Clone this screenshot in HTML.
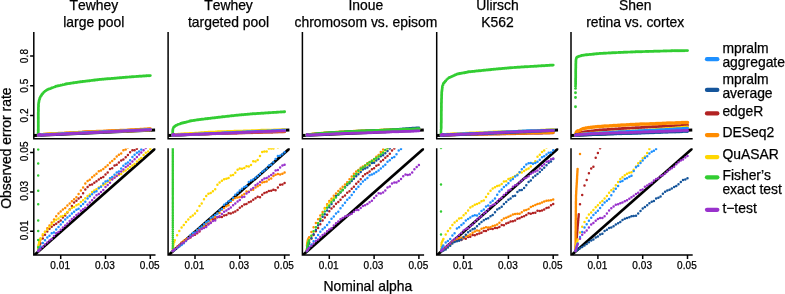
<!DOCTYPE html>
<html lang="en">
<head>
<meta charset="utf-8">
<title>Observed error rate vs nominal alpha</title>
<style>html,body{margin:0;padding:0;background:#fff}body{width:785px;height:294px;overflow:hidden}svg{display:block}</style>
</head>
<body>
<svg width="785" height="294" viewBox="0 0 785 294">
<rect width="785" height="294" fill="#fff"/>
<defs>
<clipPath id="cb0"><rect x="33.8" y="148.2" width="121.7" height="106.8"/></clipPath>
<clipPath id="ct0"><rect x="33.8" y="32" width="121.7" height="106.8"/></clipPath>
<clipPath id="cb1"><rect x="168.1" y="148.2" width="121.7" height="106.8"/></clipPath>
<clipPath id="ct1"><rect x="168.1" y="32" width="121.7" height="106.8"/></clipPath>
<clipPath id="cb2"><rect x="302.4" y="148.2" width="121.7" height="106.8"/></clipPath>
<clipPath id="ct2"><rect x="302.4" y="32" width="121.7" height="106.8"/></clipPath>
<clipPath id="cb3"><rect x="436.7" y="148.2" width="121.7" height="106.8"/></clipPath>
<clipPath id="ct3"><rect x="436.7" y="32" width="121.7" height="106.8"/></clipPath>
<clipPath id="cb4"><rect x="571" y="148.2" width="121.7" height="106.8"/></clipPath>
<clipPath id="ct4"><rect x="571" y="32" width="121.7" height="106.8"/></clipPath>
</defs>
<g clip-path="url(#ct0)">
<path d="M33.8 135.4L155.2 130" stroke="#000" stroke-width="3" fill="none"/>
<path d="M38.3 135.2h0M38.3 135.2h0M38.4 135.2h0M38.5 135.1h0M38.6 135.1h0M38.7 135.1h0M39 135h0M39.2 135h0M39.4 135h0M39.6 134.9h0M39.9 134.9h0M40.1 134.9h0M40.3 134.8h0M40.5 134.8h0M41.7 134.7h0M42.8 134.6h0M43.9 134.5h0M45 134.4h0M46.1 134.3h0M47.3 134.2h0M48.4 134.2h0M49.5 134.1h0M50.6 134h0M51.7 134h0M52.9 133.9h0M54 133.9h0M55.1 133.9h0M56.2 133.8h0M57.3 133.8h0M58.5 133.7h0M59.6 133.7h0M60.7 133.7h0M61.8 133.6h0M62.9 133.5h0M64.1 133.5h0M65.2 133.4h0M66.3 133.3h0M67.4 133.3h0M68.5 133.2h0M69.7 133.1h0M70.8 133h0M71.9 132.9h0M73 132.9h0M74.1 132.8h0M75.3 132.7h0M76.4 132.7h0M77.5 132.6h0M78.6 132.6h0M79.7 132.5h0M80.9 132.5h0M82 132.4h0M83.1 132.3h0M84.2 132.2h0M85.3 132.1h0M86.5 132h0M87.6 132h0M88.7 131.9h0M89.8 131.9h0M90.9 131.9h0M92.1 131.9h0M93.2 131.8h0M94.3 131.8h0M95.4 131.7h0M96.5 131.7h0M97.7 131.7h0M98.8 131.6h0M99.9 131.6h0M101 131.5h0M102.1 131.5h0M103.3 131.5h0M104.4 131.4h0M105.5 131.4h0M106.6 131.3h0M107.7 131.3h0M108.9 131.2h0M110 131.1h0M111.1 131.1h0M112.2 131h0M113.3 131h0M114.5 130.9h0M115.6 130.9h0M116.7 130.9h0M117.8 130.8h0M118.9 130.7h0M120.1 130.7h0M121.2 130.6h0M122.3 130.6h0M123.4 130.6h0M124.5 130.5h0M125.7 130.5h0M126.8 130.4h0M127.9 130.4h0M129 130.3h0M130.1 130.2h0M131.3 130.2h0M132.4 130.1h0M133.5 130.1h0M134.6 130.1h0M135.7 130.1h0M136.9 130.1h0M138 130h0M139.1 129.9h0M140.2 129.9h0M141.3 129.8h0M142.5 129.7h0M143.6 129.6h0M144.7 129.6h0M145.8 129.5h0M146.9 129.4h0M148.1 129.4h0M149.2 129.3h0M150.3 129.2h0" stroke="#B22222" stroke-width="2.9" stroke-linecap="round" fill="none"/>
<path d="M38.3 135.2h0M38.3 135.2h0M38.4 135.1h0M38.5 135h0M38.6 135h0M38.7 134.9h0M39 134.9h0M39.2 134.8h0M39.4 134.8h0M39.6 134.7h0M39.9 134.7h0M40.1 134.7h0M40.3 134.6h0M40.5 134.6h0M41.7 134.5h0M42.8 134.4h0M43.9 134.3h0M45 134.2h0M46.1 134.1h0M47.3 134.1h0M48.4 134h0M49.5 133.9h0M50.6 133.8h0M51.7 133.8h0M52.9 133.7h0M54 133.6h0M55.1 133.5h0M56.2 133.5h0M57.3 133.4h0M58.5 133.3h0M59.6 133.3h0M60.7 133.2h0M61.8 133.2h0M62.9 133.1h0M64.1 133.1h0M65.2 133h0M66.3 133h0M67.4 132.9h0M68.5 132.9h0M69.7 132.8h0M70.8 132.8h0M71.9 132.7h0M73 132.6h0M74.1 132.6h0M75.3 132.5h0M76.4 132.5h0M77.5 132.4h0M78.6 132.3h0M79.7 132.3h0M80.9 132.2h0M82 132.1h0M83.1 132h0M84.2 131.9h0M85.3 131.8h0M86.5 131.7h0M87.6 131.7h0M88.7 131.7h0M89.8 131.6h0M90.9 131.6h0M92.1 131.5h0M93.2 131.5h0M94.3 131.4h0M95.4 131.4h0M96.5 131.3h0M97.7 131.3h0M98.8 131.2h0M99.9 131.2h0M101 131.2h0M102.1 131.1h0M103.3 131.1h0M104.4 131h0M105.5 131h0M106.6 130.9h0M107.7 130.9h0M108.9 130.8h0M110 130.8h0M111.1 130.7h0M112.2 130.7h0M113.3 130.6h0M114.5 130.6h0M115.6 130.5h0M116.7 130.5h0M117.8 130.4h0M118.9 130.4h0M120.1 130.3h0M121.2 130.3h0M122.3 130.2h0M123.4 130.1h0M124.5 130.1h0M125.7 130.1h0M126.8 130.1h0M127.9 130h0M129 129.9h0M130.1 129.9h0M131.3 129.8h0M132.4 129.7h0M133.5 129.6h0M134.6 129.6h0M135.7 129.5h0M136.9 129.5h0M138 129.4h0M139.1 129.4h0M140.2 129.3h0M141.3 129.3h0M142.5 129.2h0M143.6 129.1h0M144.7 129h0M145.8 129h0M146.9 128.9h0M148.1 128.8h0M149.2 128.7h0M150.3 128.7h0" stroke="#FF8C00" stroke-width="2.9" stroke-linecap="round" fill="none"/>
<path d="M38.3 135.2h0M38.3 135.1h0M38.4 135.1h0M38.5 134.9h0M38.6 134.9h0M38.7 134.9h0M39 134.8h0M39.2 134.7h0M39.4 134.7h0M39.6 134.7h0M39.9 134.6h0M40.1 134.6h0M40.3 134.6h0M40.5 134.6h0M41.7 134.5h0M42.8 134.4h0M43.9 134.3h0M45 134.2h0M46.1 134.2h0M47.3 134.1h0M48.4 134.1h0M49.5 134h0M50.6 133.9h0M51.7 133.9h0M52.9 133.8h0M54 133.7h0M55.1 133.7h0M56.2 133.6h0M57.3 133.6h0M58.5 133.6h0M59.6 133.5h0M60.7 133.5h0M61.8 133.5h0M62.9 133.4h0M64.1 133.4h0M65.2 133.3h0M66.3 133.3h0M67.4 133.2h0M68.5 133.2h0M69.7 133.1h0M70.8 133.1h0M71.9 133h0M73 133h0M74.1 133h0M75.3 132.9h0M76.4 132.9h0M77.5 132.9h0M78.6 132.9h0M79.7 132.8h0M80.9 132.7h0M82 132.7h0M83.1 132.7h0M84.2 132.6h0M85.3 132.5h0M86.5 132.5h0M87.6 132.4h0M88.7 132.4h0M89.8 132.4h0M90.9 132.3h0M92.1 132.2h0M93.2 132.2h0M94.3 132.2h0M95.4 132.1h0M96.5 132.1h0M97.7 132.1h0M98.8 132h0M99.9 132h0M101 132h0M102.1 131.9h0M103.3 131.9h0M104.4 131.9h0M105.5 131.8h0M106.6 131.8h0M107.7 131.7h0M108.9 131.7h0M110 131.6h0M111.1 131.6h0M112.2 131.6h0M113.3 131.5h0M114.5 131.5h0M115.6 131.5h0M116.7 131.4h0M117.8 131.4h0M118.9 131.4h0M120.1 131.4h0M121.2 131.3h0M122.3 131.3h0M123.4 131.2h0M124.5 131.2h0M125.7 131.2h0M126.8 131.1h0M127.9 131.1h0M129 131h0M130.1 131h0M131.3 130.9h0M132.4 130.9h0M133.5 130.9h0M134.6 130.8h0M135.7 130.8h0M136.9 130.7h0M138 130.7h0M139.1 130.6h0M140.2 130.6h0M141.3 130.5h0M142.5 130.5h0M143.6 130.4h0M144.7 130.3h0M145.8 130.3h0M146.9 130.2h0M148.1 130.2h0M149.2 130.1h0M150.3 130.1h0" stroke="#FFD700" stroke-width="2.9" stroke-linecap="round" fill="none"/>
<path d="M38.3 135.2h0M38.3 135.2h0M38.4 135.2h0M38.5 135.2h0M38.6 135.2h0M38.7 135.1h0M39 135.1h0M39.2 135.1h0M39.4 135.1h0M39.6 135.1h0M39.9 135h0M40.1 135h0M40.3 135h0M40.5 135h0M41.7 134.9h0M42.8 134.8h0M43.9 134.7h0M45 134.7h0M46.1 134.6h0M47.3 134.5h0M48.4 134.5h0M49.5 134.4h0M50.6 134.4h0M51.7 134.3h0M52.9 134.3h0M54 134.3h0M55.1 134.2h0M56.2 134.1h0M57.3 134.1h0M58.5 134h0M59.6 133.9h0M60.7 133.9h0M61.8 133.8h0M62.9 133.7h0M64.1 133.7h0M65.2 133.6h0M66.3 133.6h0M67.4 133.5h0M68.5 133.5h0M69.7 133.4h0M70.8 133.4h0M71.9 133.3h0M73 133.3h0M74.1 133.2h0M75.3 133.2h0M76.4 133.1h0M77.5 133.1h0M78.6 133.1h0M79.7 133h0M80.9 132.9h0M82 132.9h0M83.1 132.8h0M84.2 132.8h0M85.3 132.7h0M86.5 132.6h0M87.6 132.6h0M88.7 132.5h0M89.8 132.5h0M90.9 132.4h0M92.1 132.3h0M93.2 132.3h0M94.3 132.2h0M95.4 132.2h0M96.5 132.2h0M97.7 132.1h0M98.8 132.1h0M99.9 132h0M101 132h0M102.1 131.9h0M103.3 131.8h0M104.4 131.8h0M105.5 131.7h0M106.6 131.7h0M107.7 131.7h0M108.9 131.6h0M110 131.6h0M111.1 131.5h0M112.2 131.5h0M113.3 131.4h0M114.5 131.4h0M115.6 131.3h0M116.7 131.3h0M117.8 131.2h0M118.9 131.2h0M120.1 131.1h0M121.2 131.1h0M122.3 131h0M123.4 130.9h0M124.5 130.9h0M125.7 130.8h0M126.8 130.8h0M127.9 130.8h0M129 130.7h0M130.1 130.6h0M131.3 130.6h0M132.4 130.5h0M133.5 130.4h0M134.6 130.4h0M135.7 130.3h0M136.9 130.3h0M138 130.2h0M139.1 130.2h0M140.2 130.2h0M141.3 130.1h0M142.5 130h0M143.6 130h0M144.7 129.9h0M145.8 129.8h0M146.9 129.8h0M148.1 129.7h0M149.2 129.7h0M150.3 129.6h0" stroke="#1E90FF" stroke-width="2.9" stroke-linecap="round" fill="none"/>
<path d="M38.2 135h0M38.2 134.6h0M38.2 134.2h0M38.2 133.7h0M38.2 132.9h0M38.2 132.2h0M38.2 131.4h0M38.2 130.8h0M38.2 130.1h0M38.3 131.6h0M38.3 130.8h0M38.3 130h0M38.3 129.2h0M38.3 128.4h0M38.3 127.6h0M38.3 126.8h0M38.3 126h0M38.3 125.2h0M38.3 124.4h0M38.3 123.6h0M38.3 122.8h0M38.3 122h0M38.3 121.2h0M38.3 120.4h0M38.3 119.6h0M38.3 118.8h0M38.3 118h0M38.3 117.2h0M38.3 116.4h0M38.3 115.6h0M38.3 114.8h0M38.3 114h0M38.3 113.2h0M38.3 112.4h0M38.4 111.6h0M38.4 110.8h0M38.4 110h0M38.4 109.2h0M38.4 108.4h0M38.4 107.6h0M38.5 106.8h0M38.5 106h0M38.5 105.2h0M38.5 104.4h0M38.6 103.6h0M38.7 102.8h0M38.9 102h0M39 101.2h0M39.1 100.5h0M39.4 99.7h0M39.6 98.9h0M39.8 98.2h0M40.2 97.4h0M40.6 96.8h0M41 96.1h0M41.4 95.4h0M41.8 94.7h0M42.3 94.1h0M42.8 93.5h0M43.9 92.2h0M45 91.3h0M46.1 90.5h0M47.3 89.8h0M48.4 89.3h0M49.5 88.9h0M50.6 88.5h0M51.7 88h0M52.9 87.6h0M54 87.1h0M55.1 86.7h0M56.2 86.3h0M57.3 86.1h0M58.5 85.8h0M59.6 85.6h0M60.7 85.3h0M61.8 85.1h0M62.9 84.8h0M64.1 84.6h0M65.2 84.3h0M66.3 84h0M67.4 83.8h0M68.5 83.6h0M69.7 83.5h0M70.8 83.3h0M71.9 83.1h0M73 83h0M74.1 82.8h0M75.3 82.6h0M76.4 82.5h0M77.5 82.3h0M78.6 82.1h0M79.7 82h0M80.9 81.8h0M82 81.7h0M83.1 81.5h0M84.2 81.4h0M85.3 81.3h0M86.5 81.1h0M87.6 81h0M88.7 80.9h0M89.8 80.7h0M90.9 80.6h0M92.1 80.4h0M93.2 80.3h0M94.3 80.2h0M95.4 80h0M96.5 79.9h0M97.7 79.8h0M98.8 79.6h0M99.9 79.5h0M101 79.4h0M102.1 79.3h0M103.3 79.2h0M104.4 79.1h0M105.5 79h0M106.6 78.9h0M107.7 78.8h0M108.9 78.8h0M110 78.7h0M111.1 78.6h0M112.2 78.5h0M113.3 78.4h0M114.5 78.3h0M115.6 78.2h0M116.7 78.1h0M117.8 78h0M118.9 77.9h0M120.1 77.8h0M121.2 77.7h0M122.3 77.6h0M123.4 77.5h0M124.5 77.4h0M125.7 77.3h0M126.8 77.2h0M127.9 77.1h0M129 77.1h0M130.1 77h0M131.3 76.9h0M132.4 76.8h0M133.5 76.7h0M134.6 76.6h0M135.7 76.6h0M136.9 76.5h0M138 76.4h0M139.1 76.3h0M140.2 76.3h0M141.3 76.2h0M142.5 76.1h0M143.6 76h0M144.7 76h0M145.8 75.9h0M146.9 75.8h0M148.1 75.7h0M149.2 75.7h0M150.3 75.6h0" stroke="#32CD32" stroke-width="2.9" stroke-linecap="round" fill="none"/>
<path d="M38.3 135.2h0M38.3 135.2h0M38.4 135.2h0M38.5 135.2h0M38.6 135.2h0M38.7 135.2h0M39 135.2h0M39.2 135.2h0M39.4 135.1h0M39.6 135.1h0M39.9 135.1h0M40.1 135.1h0M40.3 135.1h0M40.5 135.1h0M41.7 135h0M42.8 135h0M43.9 134.9h0M45 134.9h0M46.1 134.8h0M47.3 134.8h0M48.4 134.7h0M49.5 134.7h0M50.6 134.6h0M51.7 134.6h0M52.9 134.5h0M54 134.5h0M55.1 134.4h0M56.2 134.3h0M57.3 134.3h0M58.5 134.2h0M59.6 134.2h0M60.7 134.1h0M61.8 134.1h0M62.9 134h0M64.1 134h0M65.2 133.9h0M66.3 133.9h0M67.4 133.8h0M68.5 133.8h0M69.7 133.7h0M70.8 133.6h0M71.9 133.6h0M73 133.5h0M74.1 133.5h0M75.3 133.4h0M76.4 133.4h0M77.5 133.4h0M78.6 133.3h0M79.7 133.2h0M80.9 133.2h0M82 133.1h0M83.1 133.1h0M84.2 133.1h0M85.3 133h0M86.5 133h0M87.6 132.9h0M88.7 132.8h0M89.8 132.8h0M90.9 132.7h0M92.1 132.7h0M93.2 132.6h0M94.3 132.5h0M95.4 132.5h0M96.5 132.4h0M97.7 132.4h0M98.8 132.3h0M99.9 132.3h0M101 132.2h0M102.1 132.2h0M103.3 132.1h0M104.4 132.1h0M105.5 132h0M106.6 131.9h0M107.7 131.9h0M108.9 131.8h0M110 131.8h0M111.1 131.7h0M112.2 131.6h0M113.3 131.6h0M114.5 131.5h0M115.6 131.5h0M116.7 131.4h0M117.8 131.4h0M118.9 131.3h0M120.1 131.3h0M121.2 131.2h0M122.3 131.2h0M123.4 131.1h0M124.5 131h0M125.7 131h0M126.8 131h0M127.9 130.9h0M129 130.9h0M130.1 130.8h0M131.3 130.8h0M132.4 130.7h0M133.5 130.7h0M134.6 130.6h0M135.7 130.5h0M136.9 130.5h0M138 130.4h0M139.1 130.4h0M140.2 130.3h0M141.3 130.3h0M142.5 130.2h0M143.6 130.1h0M144.7 130.1h0M145.8 130h0M146.9 130h0M148.1 129.9h0M149.2 129.9h0M150.3 129.8h0" stroke="#9932CC" stroke-width="2.9" stroke-linecap="round" fill="none"/>
</g>
<g clip-path="url(#cb0)">
<path d="M32.8 256.4L155.6 148.2" stroke="#000" stroke-width="2.7" fill="none"/>
<path d="M38.3 250.9h0M38.3 250.7h0M38.4 250.3h0M38.5 249.7h0M38.6 249h0M38.7 248.3h0M39 247.5h0M39.2 246.8h0M39.4 246.1h0M39.6 245.5h0M39.9 244.8h0M40.1 244.3h0M40.3 243.8h0M40.5 243.3h0M42.8 238.6h0M45 234.7h0M47.3 231.6h0M49.5 228.8h0M51.7 226.8h0M54 225h0M56.2 223.7h0M58.5 222h0M60.7 220.6h0M62.9 217.5h0M65.2 215.5h0M67.4 212.5h0M69.7 209.5h0M71.9 206h0M74.1 202.6h0M76.4 200.7h0M78.6 198.6h0M80.9 197h0M83.1 193.2h0M85.3 189.6h0M87.6 186.9h0M89.8 184.9h0M92.1 184.5h0M94.3 182.8h0M96.5 181.2h0M98.8 179.6h0M101 178h0M103.3 176.9h0M105.5 174.6h0M107.7 172.6h0M110 169h0M112.2 168.2h0M114.5 165.6h0M116.7 164.8h0M118.9 162.4h0M121.2 160.4h0M123.4 159.4h0M125.7 157.2h0M127.9 155.1h0M130.1 152.2h0M132.4 150.3h0M134.6 150.3h0M136.9 148.8h0M139.1 145.6h0" stroke="#B22222" stroke-width="2.5" stroke-linecap="round" fill="none"/>
<path d="M38.3 250.7h0M38.3 250.4h0M38.4 249.5h0M38.5 248h0M38.6 246.8h0M38.7 246h0M39 244.5h0M39.2 243h0M39.4 242.4h0M39.6 241.8h0M39.9 241.2h0M40.1 240.6h0M40.3 239.9h0M40.5 239.3h0M42.8 235.5h0M45 231.7h0M47.3 228.2h0M49.5 225.4h0M51.7 222.4h0M54 219.4h0M56.2 216.3h0M58.5 213.4h0M60.7 211.6h0M62.9 209.5h0M65.2 208.1h0M67.4 205.4h0M69.7 203.4h0M71.9 201.2h0M74.1 199.2h0M76.4 197.2h0M78.6 194.1h0M80.9 190.6h0M83.1 187.6h0M85.3 183.5h0M87.6 181h0M89.8 179.8h0M92.1 177.3h0M94.3 175.4h0M96.5 173.8h0M98.8 171.3h0M101 170.6h0M103.3 169.1h0M105.5 167.1h0M107.7 165.2h0M110 162.8h0M112.2 160.9h0M114.5 158.9h0M116.7 156.5h0M118.9 154.8h0M121.2 153.4h0M123.4 150.3h0M125.7 149.4h0M127.9 147.4h0" stroke="#FF8C00" stroke-width="2.5" stroke-linecap="round" fill="none"/>
<path d="M38.3 250.4h0M38.3 249.9h0M38.4 248.2h0M38.5 245.9h0M38.6 245.2h0M38.7 244.5h0M39 243.1h0M39.2 241.7h0M39.4 240.7h0M39.6 240.2h0M39.9 239.7h0M40.1 239.2h0M40.3 238.7h0M40.5 238.2h0M42.8 234.2h0M45 232h0M47.3 229.7h0M49.5 227h0M51.7 224.3h0M54 221.4h0M56.2 219.8h0M58.5 218.6h0M60.7 216.6h0M62.9 215.9h0M65.2 213.9h0M67.4 211.9h0M69.7 209.9h0M71.9 208h0M74.1 207h0M76.4 205.3h0M78.6 204.2h0M80.9 202h0M83.1 200.2h0M85.3 198.2h0M87.6 196h0M89.8 194.4h0M92.1 192.1h0M94.3 190.6h0M96.5 189.2h0M98.8 187.4h0M101 186.6h0M103.3 185h0M105.5 183.7h0M107.7 181.8h0M110 180h0M112.2 178.9h0M114.5 177.6h0M116.7 175.6h0M118.9 174.9h0M121.2 174h0M123.4 171.6h0M125.7 170.6h0M127.9 168.7h0M130.1 166.9h0M132.4 165.5h0M134.6 164.1h0M136.9 161.6h0M139.1 159.4h0M141.3 158.1h0M143.6 155.1h0M145.8 152.8h0M148.1 151.6h0M150.3 149h0" stroke="#FFD700" stroke-width="2.5" stroke-linecap="round" fill="none"/>
<path d="M38.3 251h0M38.3 250.9h0M38.4 250.8h0M38.5 250.5h0M38.6 250.3h0M38.7 250h0M39 249.5h0M39.2 249h0M39.4 248.6h0M39.6 248.2h0M39.9 247.8h0M40.1 247.4h0M40.3 247h0M40.5 246.6h0M42.8 243.1h0M45 240.2h0M47.3 237.4h0M49.5 235.8h0M51.7 233.2h0M54 232.4h0M56.2 229.6h0M58.5 227h0M60.7 224.5h0M62.9 222.1h0M65.2 219.6h0M67.4 217.4h0M69.7 215.7h0M71.9 213.4h0M74.1 211.7h0M76.4 209.8h0M78.6 208.7h0M80.9 206h0M83.1 204h0M85.3 201.8h0M87.6 198.5h0M89.8 196.3h0M92.1 194.2h0M94.3 192.2h0M96.5 191.2h0M98.8 188.3h0M101 186.8h0M103.3 183.4h0M105.5 181.4h0M107.7 180.7h0M110 178.3h0M112.2 177h0M114.5 174.7h0M116.7 172.4h0M118.9 171.5h0M121.2 168.4h0M123.4 165.8h0M125.7 163.8h0M127.9 162.5h0M130.1 160.3h0M132.4 157.1h0M134.6 154.7h0M136.9 152.7h0M139.1 151.4h0M141.3 149.6h0M143.6 146.6h0" stroke="#1E90FF" stroke-width="2.5" stroke-linecap="round" fill="none"/>
<path d="M38.2 247.2h0M38.2 239.9h0M38.2 230.9h0M38.2 220.5h0M38.2 204.3h0M38.2 190.8h0M38.2 175.6h0M38.2 163.6h0M38.2 149.4h0" stroke="#32CD32" stroke-width="2.5" stroke-linecap="round" fill="none"/>
<path d="M38.3 251h0M38.3 251h0M38.4 250.9h0M38.5 250.8h0M38.6 250.7h0M38.7 250.6h0M39 250.4h0M39.2 250.2h0M39.4 250h0M39.6 249.8h0M39.9 249.6h0M40.1 249.3h0M40.3 249.1h0M40.5 248.9h0M42.8 246.8h0M45 244.6h0M47.3 242.4h0M49.5 240.5h0M51.7 238.9h0M54 236.1h0M56.2 233.3h0M58.5 231.9h0M60.7 229.8h0M62.9 227.6h0M65.2 225.6h0M67.4 223.5h0M69.7 221.1h0M71.9 218.9h0M74.1 217.2h0M76.4 215h0M78.6 213.6h0M80.9 210.8h0M83.1 209.2h0M85.3 207.8h0M87.6 204.8h0M89.8 202.6h0M92.1 200.2h0M94.3 197.7h0M96.5 195.2h0M98.8 194h0M101 192.1h0M103.3 189.9h0M105.5 187.1h0M107.7 184.9h0M110 182.7h0M112.2 179.6h0M114.5 177.8h0M116.7 176h0M118.9 173.8h0M121.2 171.6h0M123.4 169.5h0M125.7 167.1h0M127.9 165.6h0M130.1 163.7h0M132.4 161.6h0M134.6 159.2h0M136.9 157.1h0M139.1 154.5h0M141.3 152.6h0M143.6 150.2h0M145.8 148h0M148.1 146.3h0" stroke="#9932CC" stroke-width="2.5" stroke-linecap="round" fill="none"/>
</g>
<g clip-path="url(#ct1)">
<path d="M168.1 135.4L289.5 130" stroke="#000" stroke-width="3" fill="none"/>
<path d="M172.6 135.2h0M172.6 135.2h0M172.7 135.2h0M172.8 135.2h0M172.9 135.2h0M173 135.2h0M173.3 135.2h0M173.5 135.2h0M173.7 135.2h0M173.9 135.1h0M174.2 135.1h0M174.4 135.1h0M174.6 135.1h0M174.8 135.1h0M176 135.1h0M177.1 135h0M178.2 135h0M179.3 134.9h0M180.4 134.9h0M181.6 134.8h0M182.7 134.8h0M183.8 134.7h0M184.9 134.7h0M186 134.6h0M187.2 134.6h0M188.3 134.6h0M189.4 134.5h0M190.5 134.5h0M191.6 134.5h0M192.8 134.4h0M193.9 134.4h0M195 134.4h0M196.1 134.3h0M197.2 134.3h0M198.4 134.3h0M199.5 134.2h0M200.6 134.1h0M201.7 134h0M202.8 134h0M204 134h0M205.1 134h0M206.2 133.9h0M207.3 133.9h0M208.4 133.8h0M209.6 133.8h0M210.7 133.8h0M211.8 133.7h0M212.9 133.6h0M214 133.6h0M215.2 133.6h0M216.3 133.5h0M217.4 133.5h0M218.5 133.5h0M219.6 133.5h0M220.8 133.5h0M221.9 133.5h0M223 133.5h0M224.1 133.4h0M225.2 133.4h0M226.4 133.4h0M227.5 133.3h0M228.6 133.3h0M229.7 133.3h0M230.8 133.3h0M232 133.3h0M233.1 133.3h0M234.2 133.2h0M235.3 133.2h0M236.4 133.2h0M237.6 133.1h0M238.7 133.1h0M239.8 133h0M240.9 133h0M242 133h0M243.2 132.9h0M244.3 132.9h0M245.4 132.8h0M246.5 132.8h0M247.6 132.8h0M248.8 132.8h0M249.9 132.7h0M251 132.7h0M252.1 132.7h0M253.2 132.6h0M254.4 132.6h0M255.5 132.5h0M256.6 132.5h0M257.7 132.5h0M258.8 132.5h0M260 132.5h0M261.1 132.4h0M262.2 132.4h0M263.3 132.3h0M264.4 132.3h0M265.6 132.3h0M266.7 132.3h0M267.8 132.2h0M268.9 132.2h0M270 132.2h0M271.2 132.2h0M272.3 132.2h0M273.4 132.1h0M274.5 132.1h0M275.6 132.1h0M276.8 132.1h0M277.9 132h0M279 131.9h0M280.1 131.9h0M281.2 131.9h0M282.4 131.9h0M283.5 131.8h0M284.6 131.8h0" stroke="#B22222" stroke-width="2.9" stroke-linecap="round" fill="none"/>
<path d="M172.6 135.2h0M172.6 135.2h0M172.7 135.2h0M172.8 135.2h0M172.9 135.2h0M173 135.2h0M173.3 135.2h0M173.5 135.2h0M173.7 135.1h0M173.9 135.1h0M174.2 135.1h0M174.4 135.1h0M174.6 135.1h0M174.8 135.1h0M176 135h0M177.1 135h0M178.2 134.9h0M179.3 134.9h0M180.4 134.8h0M181.6 134.8h0M182.7 134.7h0M183.8 134.7h0M184.9 134.6h0M186 134.6h0M187.2 134.6h0M188.3 134.6h0M189.4 134.5h0M190.5 134.4h0M191.6 134.4h0M192.8 134.4h0M193.9 134.3h0M195 134.3h0M196.1 134.2h0M197.2 134.2h0M198.4 134.1h0M199.5 134.1h0M200.6 134.1h0M201.7 134.1h0M202.8 134h0M204 134h0M205.1 133.9h0M206.2 133.8h0M207.3 133.8h0M208.4 133.7h0M209.6 133.7h0M210.7 133.6h0M211.8 133.5h0M212.9 133.5h0M214 133.5h0M215.2 133.5h0M216.3 133.4h0M217.4 133.3h0M218.5 133.3h0M219.6 133.3h0M220.8 133.2h0M221.9 133.1h0M223 133.1h0M224.1 133h0M225.2 133h0M226.4 133h0M227.5 132.9h0M228.6 132.9h0M229.7 132.8h0M230.8 132.7h0M232 132.7h0M233.1 132.6h0M234.2 132.6h0M235.3 132.5h0M236.4 132.5h0M237.6 132.5h0M238.7 132.5h0M239.8 132.5h0M240.9 132.5h0M242 132.4h0M243.2 132.4h0M244.3 132.3h0M245.4 132.3h0M246.5 132.2h0M247.6 132.2h0M248.8 132.2h0M249.9 132.2h0M251 132.1h0M252.1 132.1h0M253.2 132.1h0M254.4 132.1h0M255.5 132h0M256.6 132h0M257.7 131.9h0M258.8 131.9h0M260 131.9h0M261.1 131.8h0M262.2 131.8h0M263.3 131.8h0M264.4 131.7h0M265.6 131.7h0M266.7 131.7h0M267.8 131.7h0M268.9 131.6h0M270 131.6h0M271.2 131.6h0M272.3 131.5h0M273.4 131.4h0M274.5 131.4h0M275.6 131.4h0M276.8 131.4h0M277.9 131.3h0M279 131.4h0M280.1 131.4h0M281.2 131.3h0M282.4 131.3h0M283.5 131.3h0M284.6 131.3h0" stroke="#FF8C00" stroke-width="2.9" stroke-linecap="round" fill="none"/>
<path d="M172.6 135.2h0M172.6 135.2h0M172.7 135.2h0M172.8 135.1h0M172.9 135.1h0M173 135h0M173.3 134.9h0M173.5 134.8h0M173.7 134.8h0M173.9 134.8h0M174.2 134.7h0M174.4 134.7h0M174.6 134.7h0M174.8 134.7h0M176 134.5h0M177.1 134.4h0M178.2 134.3h0M179.3 134.2h0M180.4 134.1h0M181.6 134h0M182.7 134h0M183.8 133.9h0M184.9 133.8h0M186 133.7h0M187.2 133.7h0M188.3 133.6h0M189.4 133.6h0M190.5 133.5h0M191.6 133.5h0M192.8 133.4h0M193.9 133.4h0M195 133.3h0M196.1 133.2h0M197.2 133.2h0M198.4 133.1h0M199.5 132.9h0M200.6 132.9h0M201.7 132.8h0M202.8 132.7h0M204 132.6h0M205.1 132.5h0M206.2 132.4h0M207.3 132.4h0M208.4 132.3h0M209.6 132.3h0M210.7 132.3h0M211.8 132.2h0M212.9 132.2h0M214 132.2h0M215.2 132.1h0M216.3 132h0M217.4 131.9h0M218.5 131.8h0M219.6 131.8h0M220.8 131.7h0M221.9 131.7h0M223 131.6h0M224.1 131.6h0M225.2 131.6h0M226.4 131.6h0M227.5 131.5h0M228.6 131.5h0M229.7 131.5h0M230.8 131.4h0M232 131.4h0M233.1 131.4h0M234.2 131.3h0M235.3 131.3h0M236.4 131.2h0M237.6 131.1h0M238.7 131.1h0M239.8 131.1h0M240.9 131.1h0M242 131.1h0M243.2 131.1h0M244.3 131h0M245.4 131h0M246.5 130.9h0M247.6 130.9h0M248.8 131h0M249.9 130.9h0M251 130.9h0M252.1 130.8h0M253.2 130.7h0M254.4 130.7h0M255.5 130.7h0M256.6 130.7h0M257.7 130.6h0M258.8 130.5h0M260 130.4h0M261.1 130.3h0M262.2 130.2h0M263.3 130.2h0M264.4 130.2h0M265.6 130.2h0M266.7 130.2h0M267.8 130.1h0M268.9 130.1h0M270 130.1h0M271.2 130.1h0M272.3 130.1h0M273.4 130.1h0M274.5 130h0M275.6 130h0M276.8 130h0M277.9 130h0M279 130h0M280.1 129.9h0M281.2 129.9h0M282.4 129.8h0M283.5 129.8h0M284.6 129.7h0" stroke="#FFD700" stroke-width="2.9" stroke-linecap="round" fill="none"/>
<path d="M172.6 135.2h0M172.6 135.2h0M172.7 135.2h0M172.8 135.2h0M172.9 135.2h0M173 135.2h0M173.3 135.2h0M173.5 135.2h0M173.7 135.2h0M173.9 135.2h0M174.2 135.1h0M174.4 135.1h0M174.6 135.1h0M174.8 135.1h0M176 135.1h0M177.1 135.1h0M178.2 135h0M179.3 135h0M180.4 134.9h0M181.6 134.9h0M182.7 134.9h0M183.8 134.8h0M184.9 134.8h0M186 134.7h0M187.2 134.6h0M188.3 134.6h0M189.4 134.5h0M190.5 134.4h0M191.6 134.4h0M192.8 134.3h0M193.9 134.3h0M195 134.3h0M196.1 134.2h0M197.2 134.2h0M198.4 134.1h0M199.5 134h0M200.6 134h0M201.7 134h0M202.8 133.9h0M204 133.9h0M205.1 133.8h0M206.2 133.8h0M207.3 133.7h0M208.4 133.7h0M209.6 133.6h0M210.7 133.5h0M211.8 133.5h0M212.9 133.5h0M214 133.4h0M215.2 133.4h0M216.3 133.4h0M217.4 133.3h0M218.5 133.2h0M219.6 133.2h0M220.8 133.1h0M221.9 133.1h0M223 133h0M224.1 132.9h0M225.2 132.8h0M226.4 132.8h0M227.5 132.7h0M228.6 132.7h0M229.7 132.7h0M230.8 132.7h0M232 132.6h0M233.1 132.5h0M234.2 132.5h0M235.3 132.4h0M236.4 132.3h0M237.6 132.3h0M238.7 132.2h0M239.8 132.2h0M240.9 132.1h0M242 132.1h0M243.2 132h0M244.3 132h0M245.4 132h0M246.5 131.9h0M247.6 131.8h0M248.8 131.7h0M249.9 131.7h0M251 131.7h0M252.1 131.6h0M253.2 131.6h0M254.4 131.6h0M255.5 131.5h0M256.6 131.5h0M257.7 131.4h0M258.8 131.4h0M260 131.3h0M261.1 131.3h0M262.2 131.2h0M263.3 131.2h0M264.4 131.2h0M265.6 131.1h0M266.7 131.1h0M267.8 131h0M268.9 130.9h0M270 130.9h0M271.2 130.9h0M272.3 130.8h0M273.4 130.7h0M274.5 130.7h0M275.6 130.6h0M276.8 130.5h0M277.9 130.4h0M279 130.4h0M280.1 130.4h0M281.2 130.4h0M282.4 130.3h0M283.5 130.3h0M284.6 130.2h0" stroke="#1E90FF" stroke-width="2.9" stroke-linecap="round" fill="none"/>
<path d="M172.6 135h0M172.6 134.2h0M172.6 133.4h0M172.7 132.6h0M172.7 131.8h0M172.7 131h0M172.8 130.2h0M172.9 129.4h0M173.1 128.7h0M173.5 127.9h0M173.8 127.2h0M174.4 126.7h0M175 126.2h0M175.7 125.7h0M176.4 125.3h0M177.1 125h0M178.2 124.4h0M179.3 124.1h0M180.4 123.7h0M181.6 123.3h0M182.7 123h0M183.8 122.8h0M184.9 122.5h0M186 122.2h0M187.2 121.9h0M188.3 121.6h0M189.4 121.3h0M190.5 121h0M191.6 120.8h0M192.8 120.6h0M193.9 120.5h0M195 120.3h0M196.1 120.1h0M197.2 119.9h0M198.4 119.8h0M199.5 119.6h0M200.6 119.5h0M201.7 119.3h0M202.8 119.2h0M204 119.1h0M205.1 118.9h0M206.2 118.8h0M207.3 118.7h0M208.4 118.5h0M209.6 118.4h0M210.7 118.3h0M211.8 118.1h0M212.9 118h0M214 117.9h0M215.2 117.7h0M216.3 117.6h0M217.4 117.5h0M218.5 117.3h0M219.6 117.2h0M220.8 117.1h0M221.9 117h0M223 116.8h0M224.1 116.7h0M225.2 116.6h0M226.4 116.4h0M227.5 116.3h0M228.6 116.2h0M229.7 116.1h0M230.8 115.9h0M232 115.8h0M233.1 115.7h0M234.2 115.6h0M235.3 115.4h0M236.4 115.3h0M237.6 115.2h0M238.7 115.1h0M239.8 115h0M240.9 114.9h0M242 114.8h0M243.2 114.7h0M244.3 114.6h0M245.4 114.5h0M246.5 114.4h0M247.6 114.3h0M248.8 114.2h0M249.9 114.1h0M251 114h0M252.1 113.9h0M253.2 113.8h0M254.4 113.8h0M255.5 113.7h0M256.6 113.6h0M257.7 113.5h0M258.8 113.5h0M260 113.4h0M261.1 113.3h0M262.2 113.2h0M263.3 113.2h0M264.4 113.1h0M265.6 113h0M266.7 112.9h0M267.8 112.9h0M268.9 112.8h0M270 112.7h0M271.2 112.6h0M272.3 112.6h0M273.4 112.5h0M274.5 112.4h0M275.6 112.4h0M276.8 112.3h0M277.9 112.2h0M279 112.1h0M280.1 112.1h0M281.2 112h0M282.4 111.9h0M283.5 111.9h0M284.6 111.8h0" stroke="#32CD32" stroke-width="2.9" stroke-linecap="round" fill="none"/>
<path d="M172.6 135.2h0M172.6 135.2h0M172.7 135.2h0M172.8 135.2h0M172.9 135.2h0M173 135.2h0M173.3 135.2h0M173.5 135.2h0M173.7 135.2h0M173.9 135.1h0M174.2 135.1h0M174.4 135.1h0M174.6 135.1h0M174.8 135.1h0M176 135.1h0M177.1 135h0M178.2 135h0M179.3 134.9h0M180.4 134.9h0M181.6 134.8h0M182.7 134.8h0M183.8 134.8h0M184.9 134.7h0M186 134.7h0M187.2 134.6h0M188.3 134.6h0M189.4 134.5h0M190.5 134.5h0M191.6 134.5h0M192.8 134.4h0M193.9 134.4h0M195 134.3h0M196.1 134.3h0M197.2 134.3h0M198.4 134.2h0M199.5 134.2h0M200.6 134.1h0M201.7 134.1h0M202.8 134.1h0M204 134h0M205.1 134h0M206.2 134h0M207.3 133.9h0M208.4 133.9h0M209.6 133.8h0M210.7 133.8h0M211.8 133.7h0M212.9 133.7h0M214 133.7h0M215.2 133.7h0M216.3 133.6h0M217.4 133.5h0M218.5 133.5h0M219.6 133.5h0M220.8 133.4h0M221.9 133.3h0M223 133.3h0M224.1 133.2h0M225.2 133.2h0M226.4 133.2h0M227.5 133.1h0M228.6 133.1h0M229.7 133.1h0M230.8 133h0M232 133h0M233.1 132.9h0M234.2 132.9h0M235.3 132.8h0M236.4 132.8h0M237.6 132.7h0M238.7 132.7h0M239.8 132.6h0M240.9 132.6h0M242 132.5h0M243.2 132.5h0M244.3 132.5h0M245.4 132.4h0M246.5 132.3h0M247.6 132.3h0M248.8 132.2h0M249.9 132.2h0M251 132.1h0M252.1 132.1h0M253.2 132h0M254.4 132h0M255.5 131.9h0M256.6 131.9h0M257.7 131.8h0M258.8 131.8h0M260 131.7h0M261.1 131.7h0M262.2 131.6h0M263.3 131.6h0M264.4 131.6h0M265.6 131.5h0M266.7 131.5h0M267.8 131.5h0M268.9 131.5h0M270 131.4h0M271.2 131.4h0M272.3 131.3h0M273.4 131.3h0M274.5 131.2h0M275.6 131.2h0M276.8 131.1h0M277.9 131.1h0M279 131.1h0M280.1 131h0M281.2 131h0M282.4 130.9h0M283.5 130.9h0M284.6 130.9h0" stroke="#9932CC" stroke-width="2.9" stroke-linecap="round" fill="none"/>
</g>
<g clip-path="url(#cb1)">
<path d="M167.1 256.4L289.9 148.2" stroke="#000" stroke-width="2.7" fill="none"/>
<path d="M172.6 251h0M172.6 251h0M172.7 251h0M172.8 250.9h0M172.9 250.8h0M173 250.7h0M173.3 250.5h0M173.5 250.3h0M173.7 250.1h0M173.9 249.9h0M174.2 249.7h0M174.4 249.5h0M174.6 249.3h0M174.8 249.1h0M177.1 247.1h0M179.3 245.2h0M181.6 243.1h0M183.8 241.6h0M186 239.4h0M188.3 238.3h0M190.5 237.4h0M192.8 235.3h0M195 234.7h0M197.2 233.3h0M199.5 231.4h0M201.7 228.1h0M204 227.2h0M206.2 225.7h0M208.4 223.9h0M210.7 222.6h0M212.9 219.3h0M215.2 218.9h0M217.4 217.2h0M219.6 217.1h0M221.9 216.9h0M224.1 215.6h0M226.4 215h0M228.6 213.3h0M230.8 213.6h0M233.1 212.5h0M235.3 211.5h0M237.6 209.9h0M239.8 207.7h0M242 206.2h0M244.3 204.4h0M246.5 203.9h0M248.8 202.3h0M251 201.5h0M253.2 199.8h0M255.5 198.2h0M257.7 196.7h0M260 197.3h0M262.2 194.7h0M264.4 193.1h0M266.7 192.3h0M268.9 191h0M271.2 190.7h0M273.4 189.8h0M275.6 190.2h0M277.9 187.5h0M280.1 184.8h0M282.4 184.4h0M284.6 183h0" stroke="#B22222" stroke-width="2.5" stroke-linecap="round" fill="none"/>
<path d="M172.6 251h0M172.6 251h0M172.7 250.9h0M172.8 250.8h0M172.9 250.7h0M173 250.6h0M173.3 250.4h0M173.5 250.2h0M173.7 250h0M173.9 249.8h0M174.2 249.6h0M174.4 249.4h0M174.6 249.1h0M174.8 248.9h0M177.1 246.8h0M179.3 244.9h0M181.6 242.5h0M183.8 240.7h0M186 239.3h0M188.3 238.3h0M190.5 235.9h0M192.8 234.3h0M195 232.9h0M197.2 230.4h0M199.5 229.4h0M201.7 228.2h0M204 226.3h0M206.2 223.2h0M208.4 221.5h0M210.7 219.4h0M212.9 216.9h0M215.2 216.9h0M217.4 213.4h0M219.6 213.1h0M221.9 209.8h0M224.1 208.1h0M226.4 206.3h0M228.6 205.2h0M230.8 201.8h0M233.1 199.8h0M235.3 197.9h0M237.6 197.5h0M239.8 197h0M242 195.6h0M244.3 194h0M246.5 191.4h0M248.8 191.8h0M251 189.9h0M253.2 189.7h0M255.5 187.4h0M257.7 186.2h0M260 184.9h0M262.2 182.6h0M264.4 182.1h0M266.7 181.5h0M268.9 179.4h0M271.2 178.4h0M273.4 175.9h0M275.6 174.8h0M277.9 174.1h0M280.1 174.6h0M282.4 173.8h0M284.6 172.6h0" stroke="#FF8C00" stroke-width="2.5" stroke-linecap="round" fill="none"/>
<path d="M172.6 250.8h0M172.6 250.7h0M172.7 250.1h0M172.8 249.3h0M172.9 248.4h0M173 247.5h0M173.3 245.8h0M173.5 244h0M173.7 242.9h0M173.9 242.4h0M174.2 241.9h0M174.4 241.3h0M174.6 240.8h0M174.8 240.3h0M177.1 235.2h0M179.3 230.9h0M181.6 227.5h0M183.8 225h0M186 222h0M188.3 219.6h0M190.5 217.1h0M192.8 215.5h0M195 213.4h0M197.2 210.8h0M199.5 206.1h0M201.7 203.4h0M204 199.2h0M206.2 196h0M208.4 193.7h0M210.7 193h0M212.9 191.3h0M215.2 189.3h0M217.4 184.8h0M219.6 182.6h0M221.9 180.7h0M224.1 179.3h0M226.4 178.7h0M228.6 177.9h0M230.8 175.6h0M233.1 175h0M235.3 172.8h0M237.6 169.8h0M239.8 168.6h0M242 168.7h0M244.3 168.1h0M246.5 166.2h0M248.8 166.5h0M251 165h0M253.2 161.3h0M255.5 161.5h0M257.7 160.1h0M260 156h0M262.2 151.9h0M264.4 151.5h0M266.7 151.4h0M268.9 148.6h0M271.2 148.5h0M273.4 148.5h0M275.6 146.6h0M277.9 147.5h0M280.1 145.8h0" stroke="#FFD700" stroke-width="2.5" stroke-linecap="round" fill="none"/>
<path d="M172.6 251h0M172.6 251h0M172.7 251h0M172.8 250.9h0M172.9 250.8h0M173 250.8h0M173.3 250.6h0M173.5 250.5h0M173.7 250.3h0M173.9 250.2h0M174.2 250h0M174.4 249.9h0M174.6 249.7h0M174.8 249.6h0M177.1 248.1h0M179.3 246.6h0M181.6 244.9h0M183.8 243.3h0M186 241h0M188.3 238.2h0M190.5 235.3h0M192.8 233.1h0M195 232.5h0M197.2 230.2h0M199.5 228.1h0M201.7 226.4h0M204 224.3h0M206.2 222.3h0M208.4 221.1h0M210.7 218.1h0M212.9 216.8h0M215.2 215.1h0M217.4 213.4h0M219.6 210.6h0M221.9 208.9h0M224.1 204.8h0M226.4 203.2h0M228.6 201.2h0M230.8 200.7h0M233.1 197.8h0M235.3 194.8h0M237.6 192.8h0M239.8 190.4h0M242 188.8h0M244.3 187h0M246.5 185.9h0M248.8 182h0M251 180.4h0M253.2 179.5h0M255.5 177.8h0M257.7 175.9h0M260 173.9h0M262.2 171.7h0M264.4 170.4h0M266.7 168.4h0M268.9 165.6h0M271.2 164.7h0M273.4 162.3h0M275.6 159.1h0M277.9 155.9h0M280.1 155.8h0M282.4 154.2h0M284.6 152.3h0" stroke="#1E90FF" stroke-width="2.5" stroke-linecap="round" fill="none"/>
<path d="M172.8 248.1h0M172.8 245.9h0M172.8 243.7h0M172.8 241.6h0M172.8 239.5h0M172.8 237.4h0M172.8 235.4h0M172.8 233.4h0M172.8 231.4h0M172.8 229.5h0M172.8 227.6h0M172.8 225.8h0M172.8 224h0M172.8 222.2h0M172.8 220.4h0M172.8 218.7h0M172.8 217.1h0M172.8 215.4h0M172.8 213.8h0M172.8 212.2h0M172.8 210.7h0M172.8 209.2h0M172.8 207.7h0M172.8 206.3h0M172.8 204.9h0M172.8 203.6h0M172.8 202.2h0M172.8 200.9h0M172.8 199.7h0M172.8 198.5h0M172.8 197.3h0M172.8 196.1h0M172.8 195h0M172.8 193.9h0M172.8 192.9h0M172.8 191.9h0M172.8 190.9h0M172.8 190h0M172.8 189.1h0M172.8 188.2h0M172.8 187.3h0M172.8 186.4h0M172.8 185.5h0M172.8 184.6h0M172.8 183.7h0M172.8 182.8h0M172.8 181.9h0M172.8 181h0M172.8 180.1h0M172.8 179.2h0M172.8 178.3h0M172.8 177.4h0M172.8 176.5h0M172.8 175.6h0M172.8 174.7h0M172.8 173.8h0M172.8 172.9h0M172.8 172h0M172.8 171.1h0M172.8 170.2h0M172.8 169.3h0M172.8 168.4h0M172.8 167.5h0M172.8 166.6h0M172.8 165.7h0M172.8 164.8h0M172.8 163.9h0M172.8 163h0M172.8 162.1h0M172.8 161.2h0M172.8 160.3h0M172.8 159.4h0M172.8 158.5h0M172.8 157.6h0M172.8 156.7h0M172.8 155.8h0M172.8 154.9h0M172.8 154h0M172.8 153.1h0M172.8 152.2h0M172.8 151.3h0M172.8 150.4h0M172.8 149.5h0M172.8 148.6h0M172.8 147.7h0M172.8 146.8h0" stroke="#32CD32" stroke-width="2.5" stroke-linecap="round" fill="none"/>
<path d="M172.6 251h0M172.6 251h0M172.7 251h0M172.8 250.9h0M172.9 250.8h0M173 250.7h0M173.3 250.5h0M173.5 250.3h0M173.7 250.1h0M173.9 250h0M174.2 249.8h0M174.4 249.6h0M174.6 249.4h0M174.8 249.2h0M177.1 247.4h0M179.3 245.5h0M181.6 243.6h0M183.8 242.4h0M186 240.5h0M188.3 238.4h0M190.5 236.9h0M192.8 235.5h0M195 233.8h0M197.2 232.3h0M199.5 230.5h0M201.7 229.1h0M204 227.9h0M206.2 226.9h0M208.4 224.4h0M210.7 222.9h0M212.9 220.9h0M215.2 220.5h0M217.4 217.1h0M219.6 216.2h0M221.9 213.9h0M224.1 211.7h0M226.4 210.4h0M228.6 208.9h0M230.8 207.6h0M233.1 205.2h0M235.3 203.5h0M237.6 201.5h0M239.8 200h0M242 197.2h0M244.3 196.8h0M246.5 193.5h0M248.8 191.9h0M251 189.6h0M253.2 188.1h0M255.5 185.3h0M257.7 183.8h0M260 182.1h0M262.2 180h0M264.4 178.6h0M266.7 178h0M268.9 176.4h0M271.2 175h0M273.4 173.2h0M275.6 170.5h0M277.9 169.9h0M280.1 167.5h0M282.4 165.5h0M284.6 164.8h0" stroke="#9932CC" stroke-width="2.5" stroke-linecap="round" fill="none"/>
</g>
<g clip-path="url(#ct2)">
<path d="M302.4 135.4L423.8 130" stroke="#000" stroke-width="3" fill="none"/>
<path d="M306.9 135.2h0M306.9 135.2h0M307 135.2h0M307.1 135.1h0M307.2 135.1h0M307.3 135.1h0M307.6 135h0M307.8 134.9h0M308 134.9h0M308.2 134.9h0M308.5 134.9h0M308.7 134.8h0M308.9 134.8h0M309.1 134.8h0M310.3 134.7h0M311.4 134.6h0M312.5 134.5h0M313.6 134.4h0M314.7 134.3h0M315.9 134.2h0M317 134.1h0M318.1 134h0M319.2 133.9h0M320.3 133.9h0M321.5 133.8h0M322.6 133.7h0M323.7 133.6h0M324.8 133.5h0M325.9 133.4h0M327.1 133.4h0M328.2 133.3h0M329.3 133.2h0M330.4 133.1h0M331.5 133.1h0M332.7 133h0M333.8 133h0M334.9 132.9h0M336 132.8h0M337.1 132.8h0M338.3 132.7h0M339.4 132.7h0M340.5 132.6h0M341.6 132.6h0M342.7 132.5h0M343.9 132.5h0M345 132.4h0M346.1 132.3h0M347.2 132.3h0M348.3 132.2h0M349.5 132.2h0M350.6 132.1h0M351.7 132.1h0M352.8 132h0M353.9 132h0M355.1 131.9h0M356.2 131.8h0M357.3 131.8h0M358.4 131.7h0M359.5 131.7h0M360.7 131.6h0M361.8 131.5h0M362.9 131.4h0M364 131.4h0M365.1 131.3h0M366.3 131.3h0M367.4 131.3h0M368.5 131.2h0M369.6 131.2h0M370.7 131.2h0M371.9 131.1h0M373 131.1h0M374.1 131h0M375.2 131h0M376.3 130.9h0M377.5 130.9h0M378.6 130.9h0M379.7 130.8h0M380.8 130.7h0M381.9 130.7h0M383.1 130.6h0M384.2 130.6h0M385.3 130.5h0M386.4 130.5h0M387.5 130.4h0M388.7 130.4h0M389.8 130.3h0M390.9 130.2h0M392 130.2h0M393.1 130.1h0M394.3 130h0M395.4 130h0M396.5 129.9h0M397.6 129.9h0M398.7 129.9h0M399.9 129.8h0M401 129.8h0M402.1 129.7h0M403.2 129.7h0M404.3 129.7h0M405.5 129.6h0M406.6 129.6h0M407.7 129.6h0M408.8 129.5h0M409.9 129.5h0M411.1 129.5h0M412.2 129.4h0M413.3 129.4h0M414.4 129.3h0M415.5 129.3h0M416.7 129.2h0M417.8 129.2h0M418.9 129.1h0" stroke="#B22222" stroke-width="2.9" stroke-linecap="round" fill="none"/>
<path d="M306.9 135.1h0M306.9 135.1h0M307 134.9h0M307.1 134.9h0M307.2 134.8h0M307.3 134.8h0M307.6 134.7h0M307.8 134.7h0M308 134.6h0M308.2 134.6h0M308.5 134.6h0M308.7 134.6h0M308.9 134.5h0M309.1 134.5h0M310.3 134.4h0M311.4 134.2h0M312.5 134.1h0M313.6 134h0M314.7 133.9h0M315.9 133.8h0M317 133.7h0M318.1 133.6h0M319.2 133.5h0M320.3 133.4h0M321.5 133.3h0M322.6 133.2h0M323.7 133.1h0M324.8 133h0M325.9 132.9h0M327.1 132.8h0M328.2 132.8h0M329.3 132.7h0M330.4 132.6h0M331.5 132.6h0M332.7 132.5h0M333.8 132.4h0M334.9 132.4h0M336 132.3h0M337.1 132.3h0M338.3 132.2h0M339.4 132.1h0M340.5 132.1h0M341.6 132h0M342.7 132h0M343.9 131.9h0M345 131.9h0M346.1 131.8h0M347.2 131.7h0M348.3 131.7h0M349.5 131.6h0M350.6 131.5h0M351.7 131.5h0M352.8 131.4h0M353.9 131.3h0M355.1 131.3h0M356.2 131.2h0M357.3 131.2h0M358.4 131.1h0M359.5 131.1h0M360.7 131h0M361.8 131h0M362.9 131h0M364 130.9h0M365.1 130.9h0M366.3 130.8h0M367.4 130.8h0M368.5 130.8h0M369.6 130.7h0M370.7 130.7h0M371.9 130.7h0M373 130.6h0M374.1 130.6h0M375.2 130.5h0M376.3 130.5h0M377.5 130.4h0M378.6 130.4h0M379.7 130.3h0M380.8 130.2h0M381.9 130.2h0M383.1 130.1h0M384.2 130h0M385.3 130h0M386.4 129.9h0M387.5 129.9h0M388.7 129.9h0M389.8 129.8h0M390.9 129.8h0M392 129.8h0M393.1 129.7h0M394.3 129.7h0M395.4 129.7h0M396.5 129.6h0M397.6 129.6h0M398.7 129.5h0M399.9 129.5h0M401 129.5h0M402.1 129.5h0M403.2 129.4h0M404.3 129.4h0M405.5 129.3h0M406.6 129.3h0M407.7 129.2h0M408.8 129.2h0M409.9 129.2h0M411.1 129.1h0M412.2 129.1h0M413.3 129.1h0M414.4 129h0M415.5 129h0M416.7 129h0M417.8 128.9h0M418.9 128.9h0" stroke="#FF8C00" stroke-width="2.9" stroke-linecap="round" fill="none"/>
<path d="M306.9 135.2h0M306.9 135.2h0M307 135.1h0M307.1 135.1h0M307.2 135h0M307.3 134.9h0M307.6 134.9h0M307.8 134.8h0M308 134.8h0M308.2 134.7h0M308.5 134.7h0M308.7 134.7h0M308.9 134.6h0M309.1 134.6h0M310.3 134.5h0M311.4 134.4h0M312.5 134.3h0M313.6 134.2h0M314.7 134.1h0M315.9 134h0M317 133.9h0M318.1 133.8h0M319.2 133.7h0M320.3 133.6h0M321.5 133.5h0M322.6 133.4h0M323.7 133.2h0M324.8 133.1h0M325.9 133h0M327.1 132.9h0M328.2 132.8h0M329.3 132.8h0M330.4 132.7h0M331.5 132.7h0M332.7 132.6h0M333.8 132.5h0M334.9 132.5h0M336 132.4h0M337.1 132.4h0M338.3 132.3h0M339.4 132.3h0M340.5 132.3h0M341.6 132.2h0M342.7 132.1h0M343.9 132h0M345 132h0M346.1 131.9h0M347.2 131.8h0M348.3 131.8h0M349.5 131.7h0M350.6 131.7h0M351.7 131.6h0M352.8 131.6h0M353.9 131.5h0M355.1 131.4h0M356.2 131.4h0M357.3 131.3h0M358.4 131.3h0M359.5 131.2h0M360.7 131.1h0M361.8 131.1h0M362.9 131h0M364 131h0M365.1 131h0M366.3 130.9h0M367.4 130.9h0M368.5 130.9h0M369.6 130.9h0M370.7 130.8h0M371.9 130.8h0M373 130.7h0M374.1 130.7h0M375.2 130.6h0M376.3 130.6h0M377.5 130.5h0M378.6 130.4h0M379.7 130.4h0M380.8 130.3h0M381.9 130.3h0M383.1 130.2h0M384.2 130.2h0M385.3 130.1h0M386.4 130.1h0M387.5 130.1h0M388.7 130h0M389.8 129.9h0M390.9 129.9h0M392 129.9h0M393.1 129.8h0M394.3 129.8h0M395.4 129.8h0M396.5 129.7h0M397.6 129.7h0M398.7 129.7h0M399.9 129.6h0M401 129.6h0M402.1 129.5h0M403.2 129.5h0M404.3 129.5h0M405.5 129.4h0M406.6 129.4h0M407.7 129.4h0M408.8 129.3h0M409.9 129.3h0M411.1 129.2h0M412.2 129.2h0M413.3 129.2h0M414.4 129.1h0M415.5 129.1h0M416.7 129h0M417.8 129h0M418.9 129h0" stroke="#FFD700" stroke-width="2.9" stroke-linecap="round" fill="none"/>
<path d="M306.9 135.2h0M306.9 135.2h0M307 135.2h0M307.1 135.2h0M307.2 135.2h0M307.3 135.2h0M307.6 135.1h0M307.8 135.1h0M308 135.1h0M308.2 135.1h0M308.5 135h0M308.7 135h0M308.9 135h0M309.1 135h0M310.3 134.9h0M311.4 134.9h0M312.5 134.8h0M313.6 134.7h0M314.7 134.6h0M315.9 134.5h0M317 134.5h0M318.1 134.4h0M319.2 134.3h0M320.3 134.2h0M321.5 134.2h0M322.6 134.1h0M323.7 134.1h0M324.8 134h0M325.9 134h0M327.1 133.9h0M328.2 133.8h0M329.3 133.8h0M330.4 133.7h0M331.5 133.6h0M332.7 133.5h0M333.8 133.5h0M334.9 133.4h0M336 133.3h0M337.1 133.3h0M338.3 133.2h0M339.4 133.1h0M340.5 133.1h0M341.6 133h0M342.7 132.9h0M343.9 132.8h0M345 132.8h0M346.1 132.7h0M347.2 132.6h0M348.3 132.6h0M349.5 132.5h0M350.6 132.5h0M351.7 132.4h0M352.8 132.3h0M353.9 132.2h0M355.1 132.2h0M356.2 132.1h0M357.3 132h0M358.4 132h0M359.5 131.9h0M360.7 131.8h0M361.8 131.8h0M362.9 131.7h0M364 131.7h0M365.1 131.6h0M366.3 131.6h0M367.4 131.5h0M368.5 131.5h0M369.6 131.4h0M370.7 131.4h0M371.9 131.4h0M373 131.3h0M374.1 131.3h0M375.2 131.3h0M376.3 131.2h0M377.5 131.2h0M378.6 131.2h0M379.7 131.1h0M380.8 131.1h0M381.9 131h0M383.1 131h0M384.2 130.9h0M385.3 130.9h0M386.4 130.8h0M387.5 130.7h0M388.7 130.7h0M389.8 130.6h0M390.9 130.6h0M392 130.5h0M393.1 130.5h0M394.3 130.5h0M395.4 130.4h0M396.5 130.3h0M397.6 130.2h0M398.7 130.2h0M399.9 130.1h0M401 130.1h0M402.1 130h0M403.2 130h0M404.3 129.9h0M405.5 129.8h0M406.6 129.8h0M407.7 129.8h0M408.8 129.7h0M409.9 129.6h0M411.1 129.6h0M412.2 129.5h0M413.3 129.5h0M414.4 129.4h0M415.5 129.4h0M416.7 129.3h0M417.8 129.3h0M418.9 129.2h0" stroke="#1E90FF" stroke-width="2.9" stroke-linecap="round" fill="none"/>
<path d="M306.9 135.2h0M306.9 135.2h0M307 135.2h0M307.1 135.1h0M307.2 135.1h0M307.3 135.1h0M307.6 135h0M307.8 135h0M308 134.9h0M308.2 134.9h0M308.5 134.9h0M308.7 134.8h0M308.9 134.8h0M309.1 134.8h0M310.3 134.7h0M311.4 134.6h0M312.5 134.5h0M313.6 134.4h0M314.7 134.2h0M315.9 134.1h0M317 134h0M318.1 133.9h0M319.2 133.8h0M320.3 133.7h0M321.5 133.6h0M322.6 133.5h0M323.7 133.4h0M324.8 133.3h0M325.9 133.3h0M327.1 133.2h0M328.2 133.1h0M329.3 133h0M330.4 132.9h0M331.5 132.8h0M332.7 132.8h0M333.8 132.7h0M334.9 132.6h0M336 132.4h0M337.1 132.4h0M338.3 132.4h0M339.4 132.3h0M340.5 132.3h0M341.6 132.2h0M342.7 132.1h0M343.9 132.1h0M345 132h0M346.1 131.9h0M347.2 131.9h0M348.3 131.8h0M349.5 131.8h0M350.6 131.7h0M351.7 131.7h0M352.8 131.6h0M353.9 131.6h0M355.1 131.5h0M356.2 131.5h0M357.3 131.4h0M358.4 131.3h0M359.5 131.3h0M360.7 131.2h0M361.8 131.2h0M362.9 131.1h0M364 131.1h0M365.1 131.1h0M366.3 131h0M367.4 131h0M368.5 131h0M369.6 130.9h0M370.7 130.8h0M371.9 130.8h0M373 130.8h0M374.1 130.8h0M375.2 130.7h0M376.3 130.7h0M377.5 130.6h0M378.6 130.6h0M379.7 130.5h0M380.8 130.4h0M381.9 130.4h0M383.1 130.4h0M384.2 130.3h0M385.3 130.3h0M386.4 130.2h0M387.5 130.2h0M388.7 130.1h0M389.8 130.1h0M390.9 130h0M392 129.9h0M393.1 129.8h0M394.3 129.7h0M395.4 129.6h0M396.5 129.6h0M397.6 129.5h0M398.7 129.4h0M399.9 129.3h0M401 129.2h0M402.1 129.1h0M403.2 129h0M404.3 128.9h0M405.5 128.9h0M406.6 128.8h0M407.7 128.7h0M408.8 128.6h0M409.9 128.5h0M411.1 128.4h0M412.2 128.3h0M413.3 128.3h0M414.4 128.2h0M415.5 128.1h0M416.7 128h0M417.8 127.9h0M418.9 127.9h0" stroke="#15559B" stroke-width="2.9" stroke-linecap="round" fill="none"/>
<path d="M306.9 135.2h0M306.9 135.2h0M307 135.2h0M307.1 135.1h0M307.2 135.1h0M307.3 135h0M307.6 134.9h0M307.8 134.9h0M308 134.8h0M308.2 134.8h0M308.5 134.8h0M308.7 134.7h0M308.9 134.7h0M309.1 134.7h0M310.3 134.5h0M311.4 134.4h0M312.5 134.3h0M313.6 134.2h0M314.7 134.1h0M315.9 134h0M317 133.9h0M318.1 133.8h0M319.2 133.7h0M320.3 133.6h0M321.5 133.5h0M322.6 133.4h0M323.7 133.3h0M324.8 133.2h0M325.9 133.1h0M327.1 133h0M328.2 133h0M329.3 132.9h0M330.4 132.8h0M331.5 132.7h0M332.7 132.7h0M333.8 132.6h0M334.9 132.6h0M336 132.5h0M337.1 132.4h0M338.3 132.4h0M339.4 132.3h0M340.5 132.2h0M341.6 132.2h0M342.7 132.1h0M343.9 132.1h0M345 132h0M346.1 131.9h0M347.2 131.8h0M348.3 131.8h0M349.5 131.7h0M350.6 131.7h0M351.7 131.6h0M352.8 131.5h0M353.9 131.4h0M355.1 131.4h0M356.2 131.3h0M357.3 131.2h0M358.4 131.2h0M359.5 131.1h0M360.7 131.1h0M361.8 131h0M362.9 131h0M364 131h0M365.1 130.9h0M366.3 130.9h0M367.4 130.8h0M368.5 130.8h0M369.6 130.7h0M370.7 130.7h0M371.9 130.7h0M373 130.6h0M374.1 130.6h0M375.2 130.6h0M376.3 130.5h0M377.5 130.5h0M378.6 130.5h0M379.7 130.4h0M380.8 130.4h0M381.9 130.3h0M383.1 130.3h0M384.2 130.2h0M385.3 130.1h0M386.4 130.1h0M387.5 130h0M388.7 130h0M389.8 129.9h0M390.9 129.9h0M392 129.9h0M393.1 129.8h0M394.3 129.8h0M395.4 129.7h0M396.5 129.7h0M397.6 129.6h0M398.7 129.6h0M399.9 129.5h0M401 129.4h0M402.1 129.4h0M403.2 129.3h0M404.3 129.3h0M405.5 129.2h0M406.6 129.2h0M407.7 129.2h0M408.8 129.2h0M409.9 129.2h0M411.1 129.1h0M412.2 129.1h0M413.3 129h0M414.4 129h0M415.5 128.9h0M416.7 128.9h0M417.8 128.8h0M418.9 128.8h0" stroke="#32CD32" stroke-width="2.9" stroke-linecap="round" fill="none"/>
<path d="M306.9 135.2h0M306.9 135.2h0M307 135.2h0M307.1 135.2h0M307.2 135.2h0M307.3 135.2h0M307.6 135.2h0M307.8 135.1h0M308 135.1h0M308.2 135.1h0M308.5 135.1h0M308.7 135.1h0M308.9 135.1h0M309.1 135h0M310.3 135h0M311.4 134.9h0M312.5 134.9h0M313.6 134.8h0M314.7 134.8h0M315.9 134.7h0M317 134.7h0M318.1 134.6h0M319.2 134.6h0M320.3 134.5h0M321.5 134.4h0M322.6 134.4h0M323.7 134.4h0M324.8 134.3h0M325.9 134.3h0M327.1 134.2h0M328.2 134.2h0M329.3 134.1h0M330.4 134.1h0M331.5 134.1h0M332.7 134h0M333.8 133.9h0M334.9 133.9h0M336 133.8h0M337.1 133.8h0M338.3 133.7h0M339.4 133.7h0M340.5 133.6h0M341.6 133.6h0M342.7 133.5h0M343.9 133.5h0M345 133.5h0M346.1 133.4h0M347.2 133.4h0M348.3 133.4h0M349.5 133.4h0M350.6 133.4h0M351.7 133.3h0M352.8 133.3h0M353.9 133.2h0M355.1 133.2h0M356.2 133.1h0M357.3 133.1h0M358.4 133.1h0M359.5 133.1h0M360.7 133h0M361.8 133h0M362.9 132.9h0M364 132.9h0M365.1 132.9h0M366.3 132.9h0M367.4 132.8h0M368.5 132.8h0M369.6 132.7h0M370.7 132.7h0M371.9 132.7h0M373 132.6h0M374.1 132.5h0M375.2 132.5h0M376.3 132.4h0M377.5 132.4h0M378.6 132.3h0M379.7 132.3h0M380.8 132.3h0M381.9 132.3h0M383.1 132.3h0M384.2 132.2h0M385.3 132.2h0M386.4 132.1h0M387.5 132h0M388.7 132h0M389.8 132h0M390.9 131.9h0M392 131.8h0M393.1 131.8h0M394.3 131.8h0M395.4 131.8h0M396.5 131.8h0M397.6 131.7h0M398.7 131.7h0M399.9 131.6h0M401 131.6h0M402.1 131.5h0M403.2 131.4h0M404.3 131.4h0M405.5 131.4h0M406.6 131.4h0M407.7 131.4h0M408.8 131.4h0M409.9 131.4h0M411.1 131.3h0M412.2 131.3h0M413.3 131.2h0M414.4 131.1h0M415.5 131h0M416.7 131h0M417.8 130.9h0M418.9 130.9h0" stroke="#9932CC" stroke-width="2.9" stroke-linecap="round" fill="none"/>
</g>
<g clip-path="url(#cb2)">
<path d="M301.4 256.4L424.2 148.2" stroke="#000" stroke-width="2.7" fill="none"/>
<path d="M306.9 250.9h0M306.9 250.8h0M307 250.4h0M307.1 249.8h0M307.2 249.1h0M307.3 248.5h0M307.6 247.3h0M307.8 246h0M308 245.4h0M308.2 244.8h0M308.5 244.2h0M308.7 243.6h0M308.9 243h0M309.1 242.5h0M311.4 238.4h0M313.6 235h0M315.9 231.3h0M318.1 227.9h0M320.3 224.3h0M322.6 220.5h0M324.8 217.4h0M327.1 214.8h0M329.3 211.2h0M331.5 208.6h0M333.8 206.5h0M336 203.8h0M338.3 201.9h0M340.5 199.7h0M342.7 197.1h0M345 195.4h0M347.2 192.7h0M349.5 191.3h0M351.7 188.8h0M353.9 186.8h0M356.2 183.7h0M358.4 181.7h0M360.7 179.2h0M362.9 176.3h0M365.1 174.2h0M367.4 172.9h0M369.6 171.6h0M371.9 169.2h0M374.1 168.2h0M376.3 165.7h0M378.6 164.7h0M380.8 161.5h0M383.1 160.1h0M385.3 157.8h0M387.5 156.1h0M389.8 153.8h0M392 150.6h0M394.3 148.4h0M396.5 146.4h0" stroke="#B22222" stroke-width="2.5" stroke-linecap="round" fill="none"/>
<path d="M306.9 250h0M306.9 248.9h0M307 245.8h0M307.1 244.2h0M307.2 243.5h0M307.3 242.7h0M307.6 241.2h0M307.8 240.3h0M308 239.8h0M308.2 239.3h0M308.5 238.8h0M308.7 238.2h0M308.9 237.7h0M309.1 237.2h0M311.4 232h0M313.6 227.3h0M315.9 223.1h0M318.1 219.3h0M320.3 215.5h0M322.6 211.9h0M324.8 208.1h0M327.1 204.2h0M329.3 200.9h0M331.5 198.8h0M333.8 195.7h0M336 193.6h0M338.3 191h0M340.5 188.8h0M342.7 186.8h0M345 184.4h0M347.2 182.3h0M349.5 179.3h0M351.7 176.5h0M353.9 173.8h0M356.2 171.5h0M358.4 169.9h0M360.7 167.8h0M362.9 166.4h0M365.1 165.3h0M367.4 163.2h0M369.6 162.1h0M371.9 160.5h0M374.1 158.9h0M376.3 156.8h0M378.6 154.9h0M380.8 152.1h0M383.1 149.5h0M385.3 146.9h0M387.5 145.4h0" stroke="#FF8C00" stroke-width="2.5" stroke-linecap="round" fill="none"/>
<path d="M306.9 250.7h0M306.9 250.5h0M307 249.7h0M307.1 248.3h0M307.2 247h0M307.3 245.6h0M307.6 244.3h0M307.8 243.4h0M308 242.5h0M308.2 241.6h0M308.5 240.9h0M308.7 240.5h0M308.9 240.1h0M309.1 239.7h0M311.4 235.7h0M313.6 231.6h0M315.9 227.2h0M318.1 223h0M320.3 218.6h0M322.6 214.2h0M324.8 208.8h0M327.1 205.6h0M329.3 202.4h0M331.5 200.5h0M333.8 198h0M336 196h0M338.3 193.7h0M340.5 192.3h0M342.7 189.6h0M345 186.7h0M347.2 183.8h0M349.5 182.2h0M351.7 179.6h0M353.9 177.6h0M356.2 175h0M358.4 172.8h0M360.7 170.3h0M362.9 168.3h0M365.1 167.6h0M367.4 165.1h0M369.6 164.5h0M371.9 162.6h0M374.1 161h0M376.3 158.7h0M378.6 156.4h0M380.8 154.2h0M383.1 152.1h0M385.3 150.3h0M387.5 148.5h0M389.8 146.1h0" stroke="#FFD700" stroke-width="2.5" stroke-linecap="round" fill="none"/>
<path d="M306.9 251h0M306.9 250.9h0M307 250.8h0M307.1 250.6h0M307.2 250.4h0M307.3 250.2h0M307.6 249.7h0M307.8 249.3h0M308 248.9h0M308.2 248.5h0M308.5 248.1h0M308.7 247.8h0M308.9 247.5h0M309.1 247.2h0M311.4 244.5h0M313.6 241.3h0M315.9 238h0M318.1 235.1h0M320.3 231.8h0M322.6 229.2h0M324.8 227.5h0M327.1 225.1h0M329.3 222.3h0M331.5 218.8h0M333.8 216.5h0M336 213.4h0M338.3 211.7h0M340.5 208.3h0M342.7 205.5h0M345 202.7h0M347.2 199.8h0M349.5 197.7h0M351.7 195h0M353.9 192h0M356.2 189.1h0M358.4 186.8h0M360.7 183.9h0M362.9 181.5h0M365.1 179.7h0M367.4 177.9h0M369.6 175.3h0M371.9 174.4h0M374.1 173.6h0M376.3 171.9h0M378.6 170.5h0M380.8 168.5h0M383.1 166.4h0M385.3 164.7h0M387.5 161.8h0M389.8 160.3h0M392 157.9h0M394.3 156.9h0M396.5 154.2h0M398.7 150.5h0M401 148.9h0M403.2 146.6h0" stroke="#1E90FF" stroke-width="2.5" stroke-linecap="round" fill="none"/>
<path d="M306.9 250.9h0M306.9 250.8h0M307 250.4h0M307.1 249.9h0M307.2 249.3h0M307.3 248.7h0M307.6 247.6h0M307.8 246.4h0M308 245.3h0M308.2 244.7h0M308.5 244.2h0M308.7 243.7h0M308.9 243.1h0M309.1 242.6h0M311.4 238.3h0M313.6 234.3h0M315.9 229.9h0M318.1 225.2h0M320.3 220.9h0M322.6 216.8h0M324.8 214.2h0M327.1 210.4h0M329.3 207.3h0M331.5 203.9h0M333.8 200.6h0M336 196.1h0M338.3 194.8h0M340.5 192.5h0M342.7 190h0M345 187.2h0M347.2 185.1h0M349.5 183.2h0M351.7 181.1h0M353.9 178.8h0M356.2 176.3h0M358.4 174.3h0M360.7 172.1h0M362.9 169.4h0M365.1 168.4h0M367.4 167.5h0M369.6 165.6h0M371.9 163h0M374.1 162.7h0M376.3 160.6h0M378.6 159h0M380.8 156.3h0M383.1 155.2h0M385.3 153.2h0M387.5 150.9h0M389.8 148.5h0M392 145.8h0" stroke="#15559B" stroke-width="2.5" stroke-linecap="round" fill="none"/>
<path d="M306.9 250.8h0M306.9 250.6h0M307 250.1h0M307.1 249.1h0M307.2 248.2h0M307.3 247.3h0M307.6 245.4h0M307.8 244.4h0M308 243.6h0M308.2 242.9h0M308.5 242.1h0M308.7 241.4h0M308.9 240.7h0M309.1 240.3h0M311.4 235.8h0M313.6 231.3h0M315.9 227.3h0M318.1 223.2h0M320.3 218.9h0M322.6 214.6h0M324.8 211.4h0M327.1 207.7h0M329.3 205.5h0M331.5 202.2h0M333.8 199.8h0M336 197.4h0M338.3 194.5h0M340.5 191.8h0M342.7 190.2h0M345 187.5h0M347.2 184.1h0M349.5 181.9h0M351.7 179.4h0M353.9 175.9h0M356.2 173.7h0M358.4 170.8h0M360.7 168.7h0M362.9 167.5h0M365.1 165.7h0M367.4 163.8h0M369.6 162.3h0M371.9 161h0M374.1 159.2h0M376.3 157.9h0M378.6 156.6h0M380.8 154.5h0M383.1 152.8h0M385.3 150.1h0M387.5 147.8h0M389.8 146.3h0" stroke="#32CD32" stroke-width="2.5" stroke-linecap="round" fill="none"/>
<path d="M306.9 251h0M306.9 250.9h0M307 250.8h0M307.1 250.7h0M307.2 250.5h0M307.3 250.4h0M307.6 250.1h0M307.8 249.8h0M308 249.4h0M308.2 249.1h0M308.5 248.8h0M308.7 248.5h0M308.9 248.3h0M309.1 248.1h0M311.4 245.8h0M313.6 243.4h0M315.9 241.1h0M318.1 239.4h0M320.3 237.1h0M322.6 235.1h0M324.8 233.6h0M327.1 231.3h0M329.3 229.5h0M331.5 228.2h0M333.8 225.4h0M336 223.3h0M338.3 221.4h0M340.5 219.3h0M342.7 217.9h0M345 216.6h0M347.2 215.7h0M349.5 214.7h0M351.7 213.7h0M353.9 211.8h0M356.2 210.1h0M358.4 210h0M360.7 208.1h0M362.9 205.9h0M365.1 205.3h0M367.4 204.1h0M369.6 202.2h0M371.9 200.7h0M374.1 198h0M376.3 195.7h0M378.6 193.2h0M380.8 193.4h0M383.1 192.5h0M385.3 190.6h0M387.5 187.5h0M389.8 186.4h0M392 183.4h0M394.3 182.4h0M396.5 182.5h0M398.7 181.1h0M401 178.9h0M403.2 176.2h0M405.5 174.5h0M407.7 174.9h0M409.9 174.5h0M412.2 172.5h0M414.4 169.2h0M416.7 167h0M418.9 164.9h0" stroke="#9932CC" stroke-width="2.5" stroke-linecap="round" fill="none"/>
</g>
<g clip-path="url(#ct3)">
<path d="M436.7 135.4L558.1 130" stroke="#000" stroke-width="3" fill="none"/>
<path d="M441.2 135.2h0M441.2 135.2h0M441.3 135.2h0M441.4 135.2h0M441.5 135.2h0M441.6 135.2h0M441.9 135.2h0M442.1 135.2h0M442.3 135.2h0M442.5 135.1h0M442.8 135.1h0M443 135.1h0M443.2 135.1h0M443.4 135.1h0M444.6 135.1h0M445.7 135h0M446.8 135h0M447.9 134.9h0M449 134.9h0M450.2 134.9h0M451.3 134.8h0M452.4 134.8h0M453.5 134.7h0M454.6 134.7h0M455.8 134.7h0M456.9 134.6h0M458 134.6h0M459.1 134.6h0M460.2 134.6h0M461.4 134.6h0M462.5 134.6h0M463.6 134.6h0M464.7 134.6h0M465.8 134.6h0M467 134.5h0M468.1 134.5h0M469.2 134.5h0M470.3 134.5h0M471.4 134.4h0M472.6 134.4h0M473.7 134.4h0M474.8 134.4h0M475.9 134.4h0M477 134.4h0M478.2 134.3h0M479.3 134.3h0M480.4 134.3h0M481.5 134.3h0M482.6 134.2h0M483.8 134.2h0M484.9 134.2h0M486 134.2h0M487.1 134.2h0M488.2 134.1h0M489.4 134.1h0M490.5 134.1h0M491.6 134.1h0M492.7 134.1h0M493.8 134.1h0M495 134h0M496.1 134h0M497.2 134h0M498.3 134h0M499.4 134h0M500.6 133.9h0M501.7 133.9h0M502.8 133.9h0M503.9 133.9h0M505 133.9h0M506.2 133.8h0M507.3 133.8h0M508.4 133.8h0M509.5 133.7h0M510.6 133.7h0M511.8 133.7h0M512.9 133.7h0M514 133.7h0M515.1 133.7h0M516.2 133.6h0M517.4 133.6h0M518.5 133.6h0M519.6 133.6h0M520.7 133.5h0M521.8 133.5h0M523 133.5h0M524.1 133.5h0M525.2 133.4h0M526.3 133.4h0M527.4 133.3h0M528.6 133.3h0M529.7 133.3h0M530.8 133.3h0M531.9 133.3h0M533 133.3h0M534.2 133.3h0M535.3 133.3h0M536.4 133.2h0M537.5 133.2h0M538.6 133.2h0M539.8 133.2h0M540.9 133.2h0M542 133.2h0M543.1 133.1h0M544.2 133.1h0M545.4 133.1h0M546.5 133h0M547.6 133h0M548.7 133h0M549.8 133h0M551 132.9h0M552.1 132.9h0M553.2 132.8h0" stroke="#B22222" stroke-width="2.9" stroke-linecap="round" fill="none"/>
<path d="M441.2 135.2h0M441.2 135.2h0M441.3 135.2h0M441.4 135.2h0M441.5 135.2h0M441.6 135.2h0M441.9 135.2h0M442.1 135.2h0M442.3 135.2h0M442.5 135.1h0M442.8 135.1h0M443 135.1h0M443.2 135.1h0M443.4 135.1h0M444.6 135.1h0M445.7 135h0M446.8 135h0M447.9 134.9h0M449 134.9h0M450.2 134.8h0M451.3 134.8h0M452.4 134.7h0M453.5 134.7h0M454.6 134.7h0M455.8 134.6h0M456.9 134.6h0M458 134.6h0M459.1 134.5h0M460.2 134.5h0M461.4 134.5h0M462.5 134.5h0M463.6 134.5h0M464.7 134.5h0M465.8 134.5h0M467 134.4h0M468.1 134.4h0M469.2 134.4h0M470.3 134.4h0M471.4 134.3h0M472.6 134.3h0M473.7 134.3h0M474.8 134.2h0M475.9 134.2h0M477 134.2h0M478.2 134.2h0M479.3 134.2h0M480.4 134.1h0M481.5 134.1h0M482.6 134.1h0M483.8 134h0M484.9 134h0M486 134h0M487.1 134h0M488.2 134h0M489.4 134h0M490.5 134h0M491.6 134h0M492.7 133.9h0M493.8 133.9h0M495 133.9h0M496.1 133.9h0M497.2 133.9h0M498.3 133.8h0M499.4 133.8h0M500.6 133.7h0M501.7 133.7h0M502.8 133.6h0M503.9 133.6h0M505 133.5h0M506.2 133.5h0M507.3 133.5h0M508.4 133.5h0M509.5 133.5h0M510.6 133.4h0M511.8 133.4h0M512.9 133.4h0M514 133.4h0M515.1 133.3h0M516.2 133.3h0M517.4 133.3h0M518.5 133.3h0M519.6 133.3h0M520.7 133.3h0M521.8 133.3h0M523 133.2h0M524.1 133.2h0M525.2 133.2h0M526.3 133.1h0M527.4 133.1h0M528.6 133.1h0M529.7 133h0M530.8 133h0M531.9 133h0M533 132.9h0M534.2 132.9h0M535.3 132.9h0M536.4 132.9h0M537.5 132.8h0M538.6 132.8h0M539.8 132.8h0M540.9 132.8h0M542 132.8h0M543.1 132.7h0M544.2 132.7h0M545.4 132.7h0M546.5 132.7h0M547.6 132.7h0M548.7 132.7h0M549.8 132.7h0M551 132.7h0M552.1 132.6h0M553.2 132.6h0" stroke="#FF8C00" stroke-width="2.9" stroke-linecap="round" fill="none"/>
<path d="M441.2 135.2h0M441.2 135.2h0M441.3 135.1h0M441.4 135h0M441.5 134.9h0M441.6 134.8h0M441.9 134.8h0M442.1 134.7h0M442.3 134.7h0M442.5 134.7h0M442.8 134.7h0M443 134.6h0M443.2 134.6h0M443.4 134.6h0M444.6 134.5h0M445.7 134.4h0M446.8 134.3h0M447.9 134.2h0M449 134.1h0M450.2 134.1h0M451.3 134h0M452.4 133.9h0M453.5 133.8h0M454.6 133.8h0M455.8 133.7h0M456.9 133.7h0M458 133.6h0M459.1 133.6h0M460.2 133.6h0M461.4 133.5h0M462.5 133.5h0M463.6 133.4h0M464.7 133.4h0M465.8 133.3h0M467 133.2h0M468.1 133.2h0M469.2 133.1h0M470.3 133h0M471.4 133h0M472.6 133h0M473.7 132.9h0M474.8 132.9h0M475.9 132.9h0M477 132.8h0M478.2 132.8h0M479.3 132.8h0M480.4 132.7h0M481.5 132.7h0M482.6 132.7h0M483.8 132.7h0M484.9 132.6h0M486 132.5h0M487.1 132.4h0M488.2 132.3h0M489.4 132.2h0M490.5 132.2h0M491.6 132.1h0M492.7 132.1h0M493.8 132h0M495 132h0M496.1 132h0M497.2 131.9h0M498.3 131.9h0M499.4 131.9h0M500.6 131.9h0M501.7 131.8h0M502.8 131.8h0M503.9 131.7h0M505 131.7h0M506.2 131.7h0M507.3 131.6h0M508.4 131.6h0M509.5 131.6h0M510.6 131.6h0M511.8 131.5h0M512.9 131.5h0M514 131.5h0M515.1 131.4h0M516.2 131.4h0M517.4 131.4h0M518.5 131.3h0M519.6 131.2h0M520.7 131.3h0M521.8 131.3h0M523 131.2h0M524.1 131.2h0M525.2 131.1h0M526.3 131.1h0M527.4 131.1h0M528.6 131.1h0M529.7 131h0M530.8 131h0M531.9 130.9h0M533 130.8h0M534.2 130.8h0M535.3 130.7h0M536.4 130.6h0M537.5 130.5h0M538.6 130.4h0M539.8 130.4h0M540.9 130.3h0M542 130.2h0M543.1 130.2h0M544.2 130.2h0M545.4 130.1h0M546.5 130h0M547.6 130h0M548.7 129.9h0M549.8 129.9h0M551 129.8h0M552.1 129.8h0M553.2 129.8h0" stroke="#FFD700" stroke-width="2.9" stroke-linecap="round" fill="none"/>
<path d="M441.2 135.2h0M441.2 135.2h0M441.3 135.2h0M441.4 135.2h0M441.5 135.1h0M441.6 135.1h0M441.9 135.1h0M442.1 135.1h0M442.3 135h0M442.5 135h0M442.8 135h0M443 135h0M443.2 134.9h0M443.4 134.9h0M444.6 134.8h0M445.7 134.8h0M446.8 134.7h0M447.9 134.7h0M449 134.6h0M450.2 134.6h0M451.3 134.5h0M452.4 134.4h0M453.5 134.4h0M454.6 134.3h0M455.8 134.2h0M456.9 134.1h0M458 134h0M459.1 134h0M460.2 133.9h0M461.4 133.9h0M462.5 133.9h0M463.6 133.8h0M464.7 133.7h0M465.8 133.7h0M467 133.6h0M468.1 133.6h0M469.2 133.6h0M470.3 133.5h0M471.4 133.5h0M472.6 133.4h0M473.7 133.4h0M474.8 133.4h0M475.9 133.4h0M477 133.4h0M478.2 133.4h0M479.3 133.3h0M480.4 133.3h0M481.5 133.2h0M482.6 133.2h0M483.8 133.1h0M484.9 133h0M486 133h0M487.1 132.9h0M488.2 132.9h0M489.4 132.8h0M490.5 132.8h0M491.6 132.7h0M492.7 132.7h0M493.8 132.6h0M495 132.6h0M496.1 132.5h0M497.2 132.4h0M498.3 132.3h0M499.4 132.2h0M500.6 132.2h0M501.7 132.1h0M502.8 132h0M503.9 132h0M505 131.9h0M506.2 131.9h0M507.3 131.8h0M508.4 131.8h0M509.5 131.7h0M510.6 131.7h0M511.8 131.6h0M512.9 131.6h0M514 131.5h0M515.1 131.5h0M516.2 131.4h0M517.4 131.4h0M518.5 131.3h0M519.6 131.2h0M520.7 131.2h0M521.8 131.1h0M523 131h0M524.1 131h0M525.2 130.9h0M526.3 130.9h0M527.4 130.8h0M528.6 130.8h0M529.7 130.8h0M530.8 130.8h0M531.9 130.8h0M533 130.8h0M534.2 130.8h0M535.3 130.8h0M536.4 130.7h0M537.5 130.7h0M538.6 130.7h0M539.8 130.6h0M540.9 130.6h0M542 130.5h0M543.1 130.5h0M544.2 130.4h0M545.4 130.4h0M546.5 130.3h0M547.6 130.3h0M548.7 130.3h0M549.8 130.3h0M551 130.2h0M552.1 130.2h0M553.2 130.1h0" stroke="#1E90FF" stroke-width="2.9" stroke-linecap="round" fill="none"/>
<path d="M441.2 135.2h0M441.2 135.2h0M441.3 135.2h0M441.4 135.2h0M441.5 135.2h0M441.6 135.2h0M441.9 135.2h0M442.1 135.2h0M442.3 135.2h0M442.5 135.2h0M442.8 135.2h0M443 135.2h0M443.2 135.2h0M443.4 135.2h0M444.6 135.1h0M445.7 135.1h0M446.8 135.1h0M447.9 135h0M449 135h0M450.2 134.9h0M451.3 134.9h0M452.4 134.8h0M453.5 134.8h0M454.6 134.7h0M455.8 134.7h0M456.9 134.7h0M458 134.7h0M459.1 134.7h0M460.2 134.6h0M461.4 134.6h0M462.5 134.6h0M463.6 134.5h0M464.7 134.4h0M465.8 134.4h0M467 134.3h0M468.1 134.3h0M469.2 134.2h0M470.3 134.2h0M471.4 134.1h0M472.6 134.1h0M473.7 134.1h0M474.8 134.1h0M475.9 134h0M477 134h0M478.2 133.9h0M479.3 133.8h0M480.4 133.8h0M481.5 133.7h0M482.6 133.7h0M483.8 133.7h0M484.9 133.6h0M486 133.6h0M487.1 133.6h0M488.2 133.5h0M489.4 133.5h0M490.5 133.5h0M491.6 133.4h0M492.7 133.4h0M493.8 133.3h0M495 133.3h0M496.1 133.2h0M497.2 133.1h0M498.3 133.1h0M499.4 133.1h0M500.6 133h0M501.7 133h0M502.8 132.9h0M503.9 132.8h0M505 132.8h0M506.2 132.7h0M507.3 132.7h0M508.4 132.6h0M509.5 132.6h0M510.6 132.6h0M511.8 132.5h0M512.9 132.5h0M514 132.4h0M515.1 132.4h0M516.2 132.3h0M517.4 132.2h0M518.5 132.2h0M519.6 132.1h0M520.7 132.1h0M521.8 132.1h0M523 132.1h0M524.1 132h0M525.2 132h0M526.3 131.9h0M527.4 131.8h0M528.6 131.7h0M529.7 131.7h0M530.8 131.7h0M531.9 131.6h0M533 131.5h0M534.2 131.5h0M535.3 131.4h0M536.4 131.4h0M537.5 131.3h0M538.6 131.3h0M539.8 131.2h0M540.9 131.2h0M542 131.1h0M543.1 131.1h0M544.2 131h0M545.4 131h0M546.5 130.9h0M547.6 130.8h0M548.7 130.8h0M549.8 130.7h0M551 130.7h0M552.1 130.6h0M553.2 130.6h0" stroke="#15559B" stroke-width="2.9" stroke-linecap="round" fill="none"/>
<path d="M441 134.4h0M441 133.2h0M441 131.9h0M441 130h0M441.2 128.6h0M441.2 127.8h0M441.2 127h0M441.2 126.2h0M441.2 125.4h0M441.2 124.6h0M441.2 123.8h0M441.2 123h0M441.3 122.2h0M441.3 121.4h0M441.3 120.6h0M441.3 119.8h0M441.3 119h0M441.3 118.2h0M441.3 117.4h0M441.3 116.6h0M441.3 115.8h0M441.3 115h0M441.3 114.2h0M441.3 113.4h0M441.3 112.6h0M441.3 111.8h0M441.3 111h0M441.4 110.2h0M441.4 109.4h0M441.4 108.6h0M441.4 107.8h0M441.4 107h0M441.4 106.2h0M441.4 105.4h0M441.4 104.6h0M441.4 103.8h0M441.4 103h0M441.5 102.2h0M441.5 101.4h0M441.5 100.6h0M441.5 99.8h0M441.5 99h0M441.6 98.2h0M441.6 97.4h0M441.6 96.6h0M441.6 95.8h0M441.6 95h0M441.7 94.2h0M441.7 93.4h0M441.7 92.6h0M441.8 91.8h0M441.9 91h0M442 90.2h0M442.1 89.4h0M442.2 88.6h0M442.3 87.8h0M442.4 87h0M442.5 86.3h0M442.8 85.5h0M443.1 84.8h0M443.3 84h0M443.7 83.3h0M444.2 82.7h0M444.7 82.1h0M445.2 81.5h0M445.7 80.9h0M446.8 79.6h0M447.9 78.6h0M449 77.7h0M450.2 77.2h0M451.3 76.7h0M452.4 76.2h0M453.5 75.7h0M454.6 75.2h0M455.8 74.8h0M456.9 74.3h0M458 73.9h0M459.1 73.7h0M460.2 73.5h0M461.4 73.3h0M462.5 73.1h0M463.6 72.9h0M464.7 72.7h0M465.8 72.5h0M467 72.3h0M468.1 72h0M469.2 71.8h0M470.3 71.7h0M471.4 71.6h0M472.6 71.5h0M473.7 71.4h0M474.8 71.2h0M475.9 71.1h0M477 71h0M478.2 70.9h0M479.3 70.8h0M480.4 70.7h0M481.5 70.6h0M482.6 70.4h0M483.8 70.3h0M484.9 70.2h0M486 70.1h0M487.1 70h0M488.2 69.9h0M489.4 69.8h0M490.5 69.7h0M491.6 69.5h0M492.7 69.4h0M493.8 69.3h0M495 69.2h0M496.1 69.1h0M497.2 69h0M498.3 68.9h0M499.4 68.8h0M500.6 68.7h0M501.7 68.6h0M502.8 68.5h0M503.9 68.4h0M505 68.3h0M506.2 68.2h0M507.3 68.1h0M508.4 68h0M509.5 67.9h0M510.6 67.8h0M511.8 67.7h0M512.9 67.6h0M514 67.6h0M515.1 67.5h0M516.2 67.4h0M517.4 67.3h0M518.5 67.2h0M519.6 67.2h0M520.7 67.1h0M521.8 67h0M523 67h0M524.1 66.9h0M525.2 66.8h0M526.3 66.8h0M527.4 66.7h0M528.6 66.6h0M529.7 66.6h0M530.8 66.5h0M531.9 66.4h0M533 66.4h0M534.2 66.3h0M535.3 66.2h0M536.4 66.2h0M537.5 66.1h0M538.6 66h0M539.8 65.9h0M540.9 65.9h0M542 65.8h0M543.1 65.7h0M544.2 65.7h0M545.4 65.6h0M546.5 65.5h0M547.6 65.5h0M548.7 65.4h0M549.8 65.3h0M551 65.2h0M552.1 65.2h0M553.2 65.1h0" stroke="#32CD32" stroke-width="2.9" stroke-linecap="round" fill="none"/>
<path d="M441.2 135.2h0M441.2 135.2h0M441.3 135.2h0M441.4 135.2h0M441.5 135.2h0M441.6 135.2h0M441.9 135.2h0M442.1 135.2h0M442.3 135.1h0M442.5 135.1h0M442.8 135.1h0M443 135.1h0M443.2 135.1h0M443.4 135.1h0M444.6 135h0M445.7 135h0M446.8 134.9h0M447.9 134.9h0M449 134.8h0M450.2 134.8h0M451.3 134.7h0M452.4 134.7h0M453.5 134.6h0M454.6 134.6h0M455.8 134.5h0M456.9 134.5h0M458 134.5h0M459.1 134.4h0M460.2 134.3h0M461.4 134.3h0M462.5 134.2h0M463.6 134.2h0M464.7 134.1h0M465.8 134.1h0M467 134.1h0M468.1 134.1h0M469.2 134h0M470.3 133.9h0M471.4 133.9h0M472.6 133.9h0M473.7 133.8h0M474.8 133.7h0M475.9 133.7h0M477 133.6h0M478.2 133.6h0M479.3 133.5h0M480.4 133.5h0M481.5 133.5h0M482.6 133.4h0M483.8 133.3h0M484.9 133.3h0M486 133.2h0M487.1 133.2h0M488.2 133.1h0M489.4 133h0M490.5 133h0M491.6 132.9h0M492.7 132.9h0M493.8 132.9h0M495 132.8h0M496.1 132.8h0M497.2 132.7h0M498.3 132.7h0M499.4 132.6h0M500.6 132.6h0M501.7 132.5h0M502.8 132.5h0M503.9 132.4h0M505 132.3h0M506.2 132.3h0M507.3 132.2h0M508.4 132.2h0M509.5 132.1h0M510.6 132.1h0M511.8 132h0M512.9 132h0M514 131.9h0M515.1 131.9h0M516.2 131.9h0M517.4 131.9h0M518.5 131.8h0M519.6 131.7h0M520.7 131.7h0M521.8 131.7h0M523 131.6h0M524.1 131.6h0M525.2 131.5h0M526.3 131.5h0M527.4 131.5h0M528.6 131.4h0M529.7 131.4h0M530.8 131.3h0M531.9 131.3h0M533 131.3h0M534.2 131.2h0M535.3 131.2h0M536.4 131.2h0M537.5 131.2h0M538.6 131.1h0M539.8 131.1h0M540.9 131h0M542 130.9h0M543.1 130.9h0M544.2 130.8h0M545.4 130.8h0M546.5 130.7h0M547.6 130.7h0M548.7 130.7h0M549.8 130.6h0M551 130.6h0M552.1 130.6h0M553.2 130.6h0" stroke="#9932CC" stroke-width="2.9" stroke-linecap="round" fill="none"/>
</g>
<g clip-path="url(#cb3)">
<path d="M435.7 256.4L558.5 148.2" stroke="#000" stroke-width="2.7" fill="none"/>
<path d="M441.2 251h0M441.2 251h0M441.3 250.9h0M441.4 250.8h0M441.5 250.8h0M441.6 250.7h0M441.9 250.5h0M442.1 250.3h0M442.3 250.2h0M442.5 250h0M442.8 249.9h0M443 249.7h0M443.2 249.5h0M443.4 249.4h0M445.7 247.7h0M447.9 245.9h0M450.2 244.3h0M452.4 242.1h0M454.6 241.2h0M456.9 240h0M459.1 239.3h0M461.4 239.9h0M463.6 238.3h0M465.8 238.8h0M468.1 237.1h0M470.3 236.8h0M472.6 234.9h0M474.8 235.2h0M477 234.2h0M479.3 233.6h0M481.5 232.8h0M483.8 231h0M486 230.9h0M488.2 229.5h0M490.5 228.8h0M492.7 229h0M495 228.1h0M497.2 228h0M499.4 226.9h0M501.7 225h0M503.9 225.2h0M506.2 223.4h0M508.4 222.7h0M510.6 221.4h0M512.9 221.3h0M515.1 220.6h0M517.4 218.7h0M519.6 218.2h0M521.8 217.1h0M524.1 216.2h0M526.3 214.9h0M528.6 213.3h0M530.8 213.7h0M533 212.9h0M535.3 212.7h0M537.5 210.7h0M539.8 211.1h0M542 210.5h0M544.2 209.5h0M546.5 207.9h0M548.7 207.4h0M551 205.2h0M553.2 204h0" stroke="#B22222" stroke-width="2.5" stroke-linecap="round" fill="none"/>
<path d="M441.2 251h0M441.2 251h0M441.3 250.9h0M441.4 250.8h0M441.5 250.7h0M441.6 250.6h0M441.9 250.4h0M442.1 250.3h0M442.3 250.1h0M442.5 249.9h0M442.8 249.7h0M443 249.5h0M443.2 249.3h0M443.4 249.1h0M445.7 247.3h0M447.9 245.4h0M450.2 243.5h0M452.4 241.6h0M454.6 240.2h0M456.9 238.7h0M459.1 237.9h0M461.4 237.7h0M463.6 237.5h0M465.8 236.2h0M468.1 235.8h0M470.3 234.6h0M472.6 232.8h0M474.8 231.6h0M477 230.5h0M479.3 230.7h0M481.5 228.7h0M483.8 228h0M486 227.2h0M488.2 227.4h0M490.5 227.2h0M492.7 226.1h0M495 225.4h0M497.2 224.6h0M499.4 222.8h0M501.7 220.3h0M503.9 218.6h0M506.2 217.7h0M508.4 216.8h0M510.6 215.7h0M512.9 214.6h0M515.1 214.1h0M517.4 213.8h0M519.6 213.7h0M521.8 212.2h0M524.1 210.6h0M526.3 210h0M528.6 208.9h0M530.8 207.1h0M533 205.9h0M535.3 205.1h0M537.5 204.1h0M539.8 203.6h0M542 202.4h0M544.2 201.4h0M546.5 200.7h0M548.7 200.5h0M551 200.3h0M553.2 199.6h0" stroke="#FF8C00" stroke-width="2.5" stroke-linecap="round" fill="none"/>
<path d="M441.2 250.6h0M441.2 250.1h0M441.3 248.8h0M441.4 246.6h0M441.5 244.4h0M441.6 243.1h0M441.9 242.6h0M442.1 242h0M442.3 241.5h0M442.5 241h0M442.8 240.5h0M443 239.9h0M443.2 239.4h0M443.4 238.9h0M445.7 234.4h0M447.9 231h0M450.2 228.2h0M452.4 224.9h0M454.6 222.4h0M456.9 220.7h0M459.1 218.6h0M461.4 218h0M463.6 215.2h0M465.8 213.3h0M468.1 210.4h0M470.3 207.4h0M472.6 206.3h0M474.8 204.7h0M477 203.9h0M479.3 203.1h0M481.5 201.2h0M483.8 200.5h0M486 196.9h0M488.2 193.7h0M490.5 190.7h0M492.7 188.5h0M495 187.2h0M497.2 186h0M499.4 185.5h0M501.7 184.1h0M503.9 181.4h0M506.2 181.2h0M508.4 179h0M510.6 178.3h0M512.9 177.3h0M515.1 176h0M517.4 174.5h0M519.6 172.3h0M521.8 172.5h0M524.1 171.1h0M526.3 169.5h0M528.6 168.5h0M530.8 166.6h0M533 163.6h0M535.3 161.2h0M537.5 156.8h0M539.8 154.8h0M542 151.9h0M544.2 150.4h0M546.5 147.4h0M548.7 145.5h0" stroke="#FFD700" stroke-width="2.5" stroke-linecap="round" fill="none"/>
<path d="M441.2 250.9h0M441.2 250.9h0M441.3 250.7h0M441.4 250.3h0M441.5 250h0M441.6 249.6h0M441.9 248.9h0M442.1 248.2h0M442.3 247.6h0M442.5 246.9h0M442.8 246.6h0M443 246.2h0M443.2 245.8h0M443.4 245.4h0M445.7 242.5h0M447.9 240.9h0M450.2 238.9h0M452.4 235.5h0M454.6 233.2h0M456.9 228.5h0M459.1 227.2h0M461.4 225h0M463.6 223.3h0M465.8 220.5h0M468.1 219.1h0M470.3 217.4h0M472.6 215.9h0M474.8 215.3h0M477 215.5h0M479.3 213.7h0M481.5 211.1h0M483.8 209.5h0M486 206.6h0M488.2 205.5h0M490.5 202.5h0M492.7 200.8h0M495 198.6h0M497.2 194.7h0M499.4 191.5h0M501.7 189.4h0M503.9 187.1h0M506.2 185.2h0M508.4 183.2h0M510.6 180.5h0M512.9 178.9h0M515.1 176.6h0M517.4 175.3h0M519.6 172.2h0M521.8 169.2h0M524.1 166.9h0M526.3 164.4h0M528.6 163.2h0M530.8 162.9h0M533 163.7h0M535.3 162.9h0M537.5 161.8h0M539.8 159.7h0M542 157.2h0M544.2 156.3h0M546.5 154.4h0M548.7 152.8h0M551 152.4h0M553.2 150.2h0" stroke="#1E90FF" stroke-width="2.5" stroke-linecap="round" fill="none"/>
<path d="M441.2 251h0M441.2 251h0M441.3 251h0M441.4 250.9h0M441.5 250.9h0M441.6 250.9h0M441.9 250.8h0M442.1 250.8h0M442.3 250.7h0M442.5 250.6h0M442.8 250.6h0M443 250.5h0M443.2 250.4h0M443.4 250.4h0M445.7 249.4h0M447.9 247.6h0M450.2 245.7h0M452.4 243.4h0M454.6 241.9h0M456.9 241.3h0M459.1 240.8h0M461.4 239.4h0M463.6 236.9h0M465.8 234.7h0M468.1 232.3h0M470.3 230.8h0M472.6 229.2h0M474.8 228.4h0M477 226.3h0M479.3 224h0M481.5 222h0M483.8 220.2h0M486 219h0M488.2 218.2h0M490.5 216.3h0M492.7 214.9h0M495 212.2h0M497.2 209.5h0M499.4 208.3h0M501.7 206.7h0M503.9 204.1h0M506.2 201.9h0M508.4 199.7h0M510.6 198.4h0M512.9 196.3h0M515.1 195.8h0M517.4 192h0M519.6 190.2h0M521.8 190h0M524.1 188.1h0M526.3 185.3h0M528.6 181.9h0M530.8 180.6h0M533 177.4h0M535.3 175.8h0M537.5 174.1h0M539.8 171.9h0M542 169.7h0M544.2 167.7h0M546.5 165.2h0M548.7 162.7h0M551 161.5h0M553.2 159.1h0" stroke="#15559B" stroke-width="2.5" stroke-linecap="round" fill="none"/>
<path d="M441 234.6h0M441 211.5h0M441 184.6h0M441 148h0" stroke="#32CD32" stroke-width="2.5" stroke-linecap="round" fill="none"/>
<path d="M441.2 251h0M441.2 251h0M441.3 250.9h0M441.4 250.8h0M441.5 250.7h0M441.6 250.6h0M441.9 250.4h0M442.1 250.2h0M442.3 250h0M442.5 249.8h0M442.8 249.6h0M443 249.4h0M443.2 249.2h0M443.4 249h0M445.7 246.9h0M447.9 244.9h0M450.2 242.9h0M452.4 240.8h0M454.6 239h0M456.9 237.2h0M459.1 235.1h0M461.4 233h0M463.6 230.6h0M465.8 228.9h0M468.1 228.3h0M470.3 226h0M472.6 224.5h0M474.8 221.7h0M477 219.5h0M479.3 217.8h0M481.5 216.2h0M483.8 213.4h0M486 212h0M488.2 209.5h0M490.5 206.3h0M492.7 204.9h0M495 204h0M497.2 201.8h0M499.4 199.3h0M501.7 197.7h0M503.9 194.9h0M506.2 193h0M508.4 190.6h0M510.6 189.6h0M512.9 186.8h0M515.1 185.3h0M517.4 184.4h0M519.6 182.2h0M521.8 180.6h0M524.1 178.5h0M526.3 177.8h0M528.6 176.2h0M530.8 173.7h0M533 172.4h0M535.3 171.5h0M537.5 170.5h0M539.8 168.4h0M542 165.9h0M544.2 164.2h0M546.5 161.8h0M548.7 161.1h0M551 159.2h0M553.2 158.5h0" stroke="#9932CC" stroke-width="2.5" stroke-linecap="round" fill="none"/>
</g>
<g clip-path="url(#ct4)">
<path d="M571 135.4L692.4 130" stroke="#000" stroke-width="3" fill="none"/>
<path d="M575.5 135.2h0M575.5 135.2h0M575.6 135.1h0M575.7 135.1h0M575.8 135h0M575.9 134.9h0M576.2 134.8h0M576.4 134.7h0M576.6 134.5h0M576.8 134.4h0M577.1 134.3h0M577.3 134.2h0M577.5 134h0M577.7 133.9h0M578.9 133.4h0M580 132.9h0M581.1 132.6h0M582.2 132.4h0M583.3 132.1h0M584.5 131.9h0M585.6 131.8h0M586.7 131.6h0M587.8 131.5h0M588.9 131.3h0M590.1 131.2h0M591.2 131.1h0M592.3 131h0M593.4 131h0M594.5 130.7h0M595.7 130.5h0M596.8 130.4h0M597.9 130.3h0M599 130.2h0M600.1 130h0M601.3 130h0M602.4 129.9h0M603.5 129.8h0M604.6 129.8h0M605.7 129.7h0M606.9 129.6h0M608 129.5h0M609.1 129.5h0M610.2 129.4h0M611.3 129.3h0M612.5 129.2h0M613.6 129.2h0M614.7 129.1h0M615.8 129h0M616.9 128.9h0M618.1 128.9h0M619.2 128.8h0M620.3 128.7h0M621.4 128.6h0M622.5 128.5h0M623.7 128.5h0M624.8 128.4h0M625.9 128.4h0M627 128.3h0M628.1 128.3h0M629.3 128.2h0M630.4 128.1h0M631.5 128.1h0M632.6 128h0M633.7 128h0M634.9 127.9h0M636 127.8h0M637.1 127.7h0M638.2 127.7h0M639.3 127.6h0M640.5 127.6h0M641.6 127.5h0M642.7 127.4h0M643.8 127.4h0M644.9 127.3h0M646.1 127.2h0M647.2 127.2h0M648.3 127.1h0M649.4 127h0M650.5 127h0M651.7 126.9h0M652.8 126.8h0M653.9 126.8h0M655 126.7h0M656.1 126.7h0M657.3 126.6h0M658.4 126.6h0M659.5 126.5h0M660.6 126.5h0M661.7 126.5h0M662.9 126.4h0M664 126.4h0M665.1 126.3h0M666.2 126.3h0M667.3 126.2h0M668.5 126.1h0M669.6 126.1h0M670.7 126h0M671.8 126h0M672.9 126h0M674.1 125.9h0M675.2 125.8h0M676.3 125.8h0M677.4 125.7h0M678.5 125.7h0M679.7 125.6h0M680.8 125.6h0M681.9 125.5h0M683 125.5h0M684.1 125.4h0M685.3 125.4h0M686.4 125.4h0M687.5 125.3h0" stroke="#B22222" stroke-width="2.9" stroke-linecap="round" fill="none"/>
<path d="M575.5 135.1h0M575.5 134.9h0M575.6 134.6h0M575.7 134h0M575.8 133.6h0M575.9 133.3h0M576.2 132.5h0M576.4 132.2h0M576.6 131.9h0M576.8 131.6h0M577.1 131.5h0M577.3 131.3h0M577.5 131.1h0M577.7 131h0M578.9 130.7h0M580 130.3h0M581.1 129.6h0M582.2 128.9h0M583.3 128.6h0M584.5 128.4h0M585.6 128.1h0M586.7 127.9h0M587.8 127.8h0M588.9 127.6h0M590.1 127.5h0M591.2 127.3h0M592.3 127.2h0M593.4 127.1h0M594.5 126.9h0M595.7 126.8h0M596.8 126.7h0M597.9 126.6h0M599 126.5h0M600.1 126.5h0M601.3 126.4h0M602.4 126.3h0M603.5 126.2h0M604.6 126.1h0M605.7 126h0M606.9 126h0M608 125.9h0M609.1 125.9h0M610.2 125.8h0M611.3 125.7h0M612.5 125.7h0M613.6 125.6h0M614.7 125.6h0M615.8 125.5h0M616.9 125.4h0M618.1 125.3h0M619.2 125.3h0M620.3 125.2h0M621.4 125.1h0M622.5 125.1h0M623.7 125h0M624.8 125h0M625.9 124.9h0M627 124.8h0M628.1 124.8h0M629.3 124.7h0M630.4 124.6h0M631.5 124.6h0M632.6 124.5h0M633.7 124.4h0M634.9 124.4h0M636 124.3h0M637.1 124.3h0M638.2 124.2h0M639.3 124.2h0M640.5 124.1h0M641.6 124.1h0M642.7 124.1h0M643.8 124.1h0M644.9 124h0M646.1 123.9h0M647.2 123.9h0M648.3 123.9h0M649.4 123.9h0M650.5 123.8h0M651.7 123.8h0M652.8 123.7h0M653.9 123.7h0M655 123.7h0M656.1 123.6h0M657.3 123.6h0M658.4 123.5h0M659.5 123.5h0M660.6 123.4h0M661.7 123.4h0M662.9 123.3h0M664 123.3h0M665.1 123.2h0M666.2 123.2h0M667.3 123.1h0M668.5 123.1h0M669.6 123.1h0M670.7 123h0M671.8 123h0M672.9 122.9h0M674.1 122.9h0M675.2 122.9h0M676.3 122.8h0M677.4 122.8h0M678.5 122.7h0M679.7 122.7h0M680.8 122.7h0M681.9 122.6h0M683 122.6h0M684.1 122.5h0M685.3 122.5h0M686.4 122.5h0M687.5 122.4h0" stroke="#FF8C00" stroke-width="3.5" stroke-linecap="round" fill="none"/>
<path d="M575.5 135.2h0M575.5 135.2h0M575.6 135.1h0M575.7 135.1h0M575.8 135.1h0M575.9 135h0M576.2 134.9h0M576.4 134.9h0M576.6 134.8h0M576.8 134.8h0M577.1 134.7h0M577.3 134.7h0M577.5 134.7h0M577.7 134.6h0M578.9 134.4h0M580 134.3h0M581.1 134.1h0M582.2 134h0M583.3 133.9h0M584.5 133.7h0M585.6 133.6h0M586.7 133.5h0M587.8 133.5h0M588.9 133.4h0M590.1 133.3h0M591.2 133.3h0M592.3 133.2h0M593.4 133.1h0M594.5 133.1h0M595.7 133h0M596.8 133h0M597.9 132.9h0M599 132.8h0M600.1 132.8h0M601.3 132.7h0M602.4 132.7h0M603.5 132.6h0M604.6 132.6h0M605.7 132.5h0M606.9 132.4h0M608 132.4h0M609.1 132.3h0M610.2 132.2h0M611.3 132.2h0M612.5 132.1h0M613.6 132.1h0M614.7 132h0M615.8 131.9h0M616.9 131.8h0M618.1 131.7h0M619.2 131.7h0M620.3 131.6h0M621.4 131.5h0M622.5 131.5h0M623.7 131.4h0M624.8 131.4h0M625.9 131.4h0M627 131.3h0M628.1 131.3h0M629.3 131.3h0M630.4 131.3h0M631.5 131.2h0M632.6 131.2h0M633.7 131.1h0M634.9 131h0M636 131h0M637.1 130.9h0M638.2 130.8h0M639.3 130.7h0M640.5 130.7h0M641.6 130.6h0M642.7 130.5h0M643.8 130.5h0M644.9 130.5h0M646.1 130.4h0M647.2 130.3h0M648.3 130.2h0M649.4 130.1h0M650.5 130h0M651.7 130h0M652.8 129.9h0M653.9 129.8h0M655 129.7h0M656.1 129.5h0M657.3 129.5h0M658.4 129.4h0M659.5 129.3h0M660.6 129.2h0M661.7 129.1h0M662.9 129.1h0M664 129h0M665.1 128.9h0M666.2 128.8h0M667.3 128.7h0M668.5 128.6h0M669.6 128.5h0M670.7 128.5h0M671.8 128.4h0M672.9 128.3h0M674.1 128.2h0M675.2 128.1h0M676.3 128h0M677.4 127.9h0M678.5 127.8h0M679.7 127.7h0M680.8 127.6h0M681.9 127.5h0M683 127.4h0M684.1 127.3h0M685.3 127.2h0M686.4 127.1h0M687.5 127h0" stroke="#FFD700" stroke-width="2.9" stroke-linecap="round" fill="none"/>
<path d="M575.5 135.2h0M575.5 135.2h0M575.6 135.2h0M575.7 135.2h0M575.8 135.1h0M575.9 135.1h0M576.2 135.1h0M576.4 135h0M576.6 135h0M576.8 135h0M577.1 134.9h0M577.3 134.9h0M577.5 134.8h0M577.7 134.8h0M578.9 134.7h0M580 134.5h0M581.1 134.4h0M582.2 134.2h0M583.3 134.1h0M584.5 134h0M585.6 133.9h0M586.7 133.9h0M587.8 133.8h0M588.9 133.7h0M590.1 133.6h0M591.2 133.5h0M592.3 133.5h0M593.4 133.4h0M594.5 133.3h0M595.7 133.3h0M596.8 133.2h0M597.9 133.2h0M599 133.1h0M600.1 133h0M601.3 133h0M602.4 132.9h0M603.5 132.8h0M604.6 132.8h0M605.7 132.7h0M606.9 132.7h0M608 132.6h0M609.1 132.6h0M610.2 132.5h0M611.3 132.4h0M612.5 132.3h0M613.6 132.2h0M614.7 132.1h0M615.8 132.1h0M616.9 132h0M618.1 131.9h0M619.2 131.8h0M620.3 131.7h0M621.4 131.7h0M622.5 131.7h0M623.7 131.6h0M624.8 131.6h0M625.9 131.6h0M627 131.5h0M628.1 131.5h0M629.3 131.5h0M630.4 131.4h0M631.5 131.4h0M632.6 131.3h0M633.7 131.2h0M634.9 131.1h0M636 131h0M637.1 131h0M638.2 130.9h0M639.3 130.8h0M640.5 130.8h0M641.6 130.7h0M642.7 130.7h0M643.8 130.6h0M644.9 130.5h0M646.1 130.5h0M647.2 130.4h0M648.3 130.4h0M649.4 130.3h0M650.5 130.3h0M651.7 130.2h0M652.8 130.2h0M653.9 130.2h0M655 130.1h0M656.1 130.1h0M657.3 130h0M658.4 129.9h0M659.5 129.9h0M660.6 129.8h0M661.7 129.8h0M662.9 129.7h0M664 129.7h0M665.1 129.6h0M666.2 129.5h0M667.3 129.5h0M668.5 129.4h0M669.6 129.3h0M670.7 129.2h0M671.8 129.2h0M672.9 129.1h0M674.1 129h0M675.2 129h0M676.3 128.9h0M677.4 128.8h0M678.5 128.7h0M679.7 128.7h0M680.8 128.6h0M681.9 128.6h0M683 128.5h0M684.1 128.4h0M685.3 128.4h0M686.4 128.3h0M687.5 128.2h0" stroke="#1E90FF" stroke-width="2.9" stroke-linecap="round" fill="none"/>
<path d="M575.5 135.2h0M575.5 135.2h0M575.6 135.2h0M575.7 135.2h0M575.8 135.2h0M575.9 135.2h0M576.2 135.2h0M576.4 135.2h0M576.6 135.2h0M576.8 135.2h0M577.1 135.1h0M577.3 135.1h0M577.5 135.1h0M577.7 135.1h0M578.9 135.1h0M580 135.1h0M581.1 135h0M582.2 135h0M583.3 135h0M584.5 134.9h0M585.6 134.9h0M586.7 134.8h0M587.8 134.8h0M588.9 134.8h0M590.1 134.7h0M591.2 134.7h0M592.3 134.6h0M593.4 134.6h0M594.5 134.6h0M595.7 134.5h0M596.8 134.5h0M597.9 134.5h0M599 134.4h0M600.1 134.4h0M601.3 134.4h0M602.4 134.3h0M603.5 134.3h0M604.6 134.2h0M605.7 134.2h0M606.9 134.1h0M608 134.1h0M609.1 134h0M610.2 134h0M611.3 134h0M612.5 134h0M613.6 134h0M614.7 133.9h0M615.8 133.9h0M616.9 133.8h0M618.1 133.8h0M619.2 133.8h0M620.3 133.7h0M621.4 133.7h0M622.5 133.6h0M623.7 133.6h0M624.8 133.6h0M625.9 133.6h0M627 133.5h0M628.1 133.5h0M629.3 133.5h0M630.4 133.5h0M631.5 133.5h0M632.6 133.4h0M633.7 133.4h0M634.9 133.4h0M636 133.4h0M637.1 133.4h0M638.2 133.3h0M639.3 133.3h0M640.5 133.2h0M641.6 133.1h0M642.7 133.1h0M643.8 133h0M644.9 133h0M646.1 132.9h0M647.2 132.9h0M648.3 132.9h0M649.4 132.8h0M650.5 132.8h0M651.7 132.7h0M652.8 132.7h0M653.9 132.7h0M655 132.6h0M656.1 132.6h0M657.3 132.5h0M658.4 132.5h0M659.5 132.5h0M660.6 132.5h0M661.7 132.4h0M662.9 132.3h0M664 132.3h0M665.1 132.2h0M666.2 132.2h0M667.3 132.2h0M668.5 132.1h0M669.6 132.1h0M670.7 132.1h0M671.8 132.1h0M672.9 132h0M674.1 132h0M675.2 132h0M676.3 131.9h0M677.4 131.9h0M678.5 131.9h0M679.7 131.8h0M680.8 131.7h0M681.9 131.7h0M683 131.6h0M684.1 131.6h0M685.3 131.6h0M686.4 131.6h0M687.5 131.5h0" stroke="#15559B" stroke-width="2.9" stroke-linecap="round" fill="none"/>
<path d="M575.5 106.8h0M575.5 97.5h0M575.5 92.7h0M575.5 88.4h0M575.5 86.3h0M575.6 84.9h0M575.6 84.1h0M575.6 83.3h0M575.6 82.5h0M575.6 81.7h0M575.6 80.9h0M575.6 80.1h0M575.6 79.3h0M575.6 78.5h0M575.7 77.7h0M575.7 76.9h0M575.7 76.1h0M575.7 75.3h0M575.7 74.5h0M575.7 73.7h0M575.7 72.9h0M575.7 72.1h0M575.7 71.3h0M575.7 70.5h0M575.7 69.7h0M575.7 68.9h0M575.8 68.1h0M575.8 67.3h0M575.8 66.5h0M575.8 65.7h0M575.8 64.9h0M575.8 64.1h0M575.9 63.3h0M575.9 62.5h0M575.9 61.7h0M575.9 60.9h0M576 60.1h0M576.1 59.3h0M576.3 58.5h0M576.6 57.8h0M577.2 57.2h0M577.8 56.8h0M578.6 56.5h0M579.3 56.3h0M580 56.1h0M581.1 55.7h0M582.2 55.4h0M583.3 55.2h0M584.5 55.1h0M585.6 54.9h0M586.7 54.8h0M587.8 54.7h0M588.9 54.6h0M590.1 54.5h0M591.2 54.4h0M592.3 54.3h0M593.4 54.2h0M594.5 54h0M595.7 53.9h0M596.8 53.8h0M597.9 53.7h0M599 53.6h0M600.1 53.5h0M601.3 53.4h0M602.4 53.4h0M603.5 53.3h0M604.6 53.3h0M605.7 53.2h0M606.9 53.1h0M608 53.1h0M609.1 53h0M610.2 53h0M611.3 52.9h0M612.5 52.8h0M613.6 52.8h0M614.7 52.7h0M615.8 52.7h0M616.9 52.6h0M618.1 52.6h0M619.2 52.5h0M620.3 52.5h0M621.4 52.4h0M622.5 52.4h0M623.7 52.3h0M624.8 52.3h0M625.9 52.2h0M627 52.2h0M628.1 52.1h0M629.3 52.1h0M630.4 52.1h0M631.5 52h0M632.6 52h0M633.7 51.9h0M634.9 51.9h0M636 51.8h0M637.1 51.8h0M638.2 51.8h0M639.3 51.7h0M640.5 51.7h0M641.6 51.7h0M642.7 51.6h0M643.8 51.6h0M644.9 51.6h0M646.1 51.5h0M647.2 51.5h0M648.3 51.5h0M649.4 51.4h0M650.5 51.4h0M651.7 51.4h0M652.8 51.4h0M653.9 51.3h0M655 51.3h0M656.1 51.3h0M657.3 51.2h0M658.4 51.2h0M659.5 51.2h0M660.6 51.1h0M661.7 51.1h0M662.9 51.1h0M664 51h0M665.1 51h0M666.2 51h0M667.3 50.9h0M668.5 50.9h0M669.6 50.9h0M670.7 50.9h0M671.8 50.8h0M672.9 50.8h0M674.1 50.8h0M675.2 50.8h0M676.3 50.8h0M677.4 50.8h0M678.5 50.7h0M679.7 50.7h0M680.8 50.7h0M681.9 50.7h0M683 50.7h0M684.1 50.7h0M685.3 50.6h0M686.4 50.6h0M687.5 50.6h0" stroke="#32CD32" stroke-width="2.9" stroke-linecap="round" fill="none"/>
<path d="M575.5 135.2h0M575.5 135.2h0M575.6 135.2h0M575.7 135.2h0M575.8 135.1h0M575.9 135.1h0M576.2 135.1h0M576.4 135h0M576.6 135h0M576.8 135h0M577.1 134.9h0M577.3 134.9h0M577.5 134.9h0M577.7 134.8h0M578.9 134.7h0M580 134.6h0M581.1 134.5h0M582.2 134.4h0M583.3 134.3h0M584.5 134.3h0M585.6 134.2h0M586.7 134.2h0M587.8 134.1h0M588.9 134h0M590.1 133.9h0M591.2 133.9h0M592.3 133.8h0M593.4 133.8h0M594.5 133.7h0M595.7 133.7h0M596.8 133.6h0M597.9 133.6h0M599 133.6h0M600.1 133.5h0M601.3 133.5h0M602.4 133.5h0M603.5 133.5h0M604.6 133.5h0M605.7 133.4h0M606.9 133.3h0M608 133.2h0M609.1 133.2h0M610.2 133.1h0M611.3 133.1h0M612.5 133h0M613.6 133h0M614.7 132.9h0M615.8 132.9h0M616.9 132.9h0M618.1 132.9h0M619.2 132.8h0M620.3 132.8h0M621.4 132.8h0M622.5 132.8h0M623.7 132.7h0M624.8 132.7h0M625.9 132.7h0M627 132.6h0M628.1 132.6h0M629.3 132.6h0M630.4 132.5h0M631.5 132.5h0M632.6 132.5h0M633.7 132.4h0M634.9 132.4h0M636 132.3h0M637.1 132.3h0M638.2 132.3h0M639.3 132.2h0M640.5 132.2h0M641.6 132.1h0M642.7 132.1h0M643.8 132h0M644.9 132h0M646.1 131.9h0M647.2 131.9h0M648.3 131.9h0M649.4 131.8h0M650.5 131.8h0M651.7 131.8h0M652.8 131.7h0M653.9 131.7h0M655 131.6h0M656.1 131.6h0M657.3 131.6h0M658.4 131.5h0M659.5 131.5h0M660.6 131.4h0M661.7 131.4h0M662.9 131.4h0M664 131.4h0M665.1 131.3h0M666.2 131.3h0M667.3 131.2h0M668.5 131.2h0M669.6 131.1h0M670.7 131.1h0M671.8 131h0M672.9 131h0M674.1 131h0M675.2 130.9h0M676.3 130.8h0M677.4 130.8h0M678.5 130.7h0M679.7 130.7h0M680.8 130.7h0M681.9 130.6h0M683 130.6h0M684.1 130.6h0M685.3 130.5h0M686.4 130.5h0M687.5 130.4h0" stroke="#9932CC" stroke-width="2.9" stroke-linecap="round" fill="none"/>
</g>
<g clip-path="url(#cb4)">
<path d="M570 256.4L692.8 148.2" stroke="#000" stroke-width="2.7" fill="none"/>
<path d="M580 204.3h0M582.2 195h0M584.5 185.5h0M586.7 180h0M588.9 173.3h0M591.2 168.6h0M593.4 166.7h0M595.7 157.8h0M597.9 152.9h0M600.1 148.2h0M602.4 145.8h0M575.5 251h0M575.6 250.2h0M575.6 249.4h0M575.7 248.6h0M575.8 247.8h0M575.9 247h0M575.9 246.2h0M576 245.4h0M576.1 244.6h0M576.2 243.8h0M576.2 243h0M576.3 242.2h0M576.4 241.4h0M576.5 240.6h0M576.5 239.8h0M576.6 239.1h0M576.7 238.3h0M576.8 237.5h0M576.8 236.7h0M576.9 235.9h0M577 235.1h0M577.1 234.3h0M577.1 233.5h0M577.2 232.7h0M577.2 231.9h0M577.3 231.1h0M577.4 230.3h0M577.4 229.5h0M577.5 228.7h0M577.6 227.9h0M577.6 227.1h0M577.7 226.3h0M577.8 225.5h0M577.8 224.7h0M577.9 223.9h0M578 223.1h0M578.1 222.3h0M578.1 221.5h0M578.2 220.7h0M578.3 219.9h0M578.3 219.1h0M578.4 218.3h0M578.5 217.5h0M578.6 216.7h0M578.6 215.9h0M578.7 215.1h0M578.8 214.3h0M578.8 214.3h0" stroke="#B22222" stroke-width="2.5" stroke-linecap="round" fill="none"/>
<path d="M580 154h0M575.5 251h0M575.5 250.2h0M575.5 249.4h0M575.5 248.6h0M575.5 247.8h0M575.5 247h0M575.5 246.2h0M575.5 245.4h0M575.5 244.6h0M575.6 243.8h0M575.6 243h0M575.6 242.2h0M575.6 241.4h0M575.6 240.6h0M575.6 239.8h0M575.6 239h0M575.6 238.2h0M575.6 237.4h0M575.6 236.6h0M575.6 235.8h0M575.6 235h0M575.6 234.2h0M575.6 233.4h0M575.6 232.6h0M575.6 231.8h0M575.7 231h0M575.7 230.2h0M575.7 229.4h0M575.7 228.6h0M575.7 227.8h0M575.7 227h0M575.7 226.2h0M575.7 225.4h0M575.7 224.6h0M575.7 223.8h0M575.7 223h0M575.7 222.2h0M575.7 221.4h0M575.7 220.6h0M575.8 219.8h0M575.8 219h0M575.8 218.2h0M575.8 217.4h0M575.8 216.6h0M575.8 215.8h0M575.8 215h0M575.8 214.2h0M575.8 213.4h0M575.8 212.6h0M575.8 211.8h0M575.8 211h0M575.9 210.2h0M575.9 209.4h0M575.9 208.6h0M575.9 207.8h0M575.9 207h0M575.9 206.2h0M575.9 205.4h0M575.9 204.6h0M575.9 203.8h0M575.9 203h0M575.9 202.2h0M575.9 201.4h0M576 200.6h0M576 199.8h0M576 199h0M576 198.2h0M576 197.4h0M576 196.6h0M576 195.8h0M576.1 195h0M576.1 194.2h0M576.2 193.4h0M576.2 192.6h0M576.2 191.8h0M576.3 191h0M576.3 190.2h0M576.4 189.4h0M576.4 188.6h0M576.5 187.8h0M576.5 187h0M576.6 186.2h0M576.6 185.4h0M576.7 184.6h0M576.7 183.8h0M576.8 183h0M576.8 182.2h0M576.9 181.4h0M576.9 180.6h0M577 179.8h0M577 179h0M577.1 178.2h0M577.1 177.4h0M577.1 176.6h0M577.2 175.8h0M577.2 175h0M577.3 174.2h0M577.3 173.4h0M577.4 172.6h0M577.4 171.8h0M577.5 171h0M577.5 170.2h0M577.6 169.4h0M577.6 169h0" stroke="#FF8C00" stroke-width="2.5" stroke-linecap="round" fill="none"/>
<path d="M575.5 250.8h0M575.5 250.6h0M575.6 250h0M575.7 249.1h0M575.8 248.1h0M575.9 247.2h0M576.2 245.2h0M576.4 244.3h0M576.6 243.5h0M576.8 242.7h0M577.1 241.9h0M577.3 241.1h0M577.5 240.3h0M577.7 239.5h0M580 232.6h0M582.2 226.8h0M584.5 222.1h0M586.7 218h0M588.9 214.5h0M591.2 212.6h0M593.4 209.9h0M595.7 207.3h0M597.9 205.3h0M600.1 202.7h0M602.4 201.1h0M604.6 198.6h0M606.9 196h0M609.1 192.8h0M611.3 190.3h0M613.6 188.4h0M615.8 185.2h0M618.1 181.9h0M620.3 179h0M622.5 177.3h0M624.8 175.2h0M627 173.8h0M629.3 172.7h0M631.5 172.2h0M633.7 169.8h0M636 166.4h0M638.2 163.2h0M640.5 161.3h0M642.7 158.3h0M644.9 156.4h0M647.2 152.9h0M649.4 148.9h0M651.7 146.5h0" stroke="#FFD700" stroke-width="2.5" stroke-linecap="round" fill="none"/>
<path d="M575.5 250.9h0M575.5 250.8h0M575.6 250.6h0M575.7 250.2h0M575.8 249.8h0M575.9 249.4h0M576.2 248.5h0M576.4 247.7h0M576.6 246.9h0M576.8 246.1h0M577.1 245.3h0M577.3 244.7h0M577.5 244h0M577.7 243.4h0M580 236.9h0M582.2 232.1h0M584.5 227.5h0M586.7 224.2h0M588.9 220.7h0M591.2 217.8h0M593.4 215h0M595.7 212.8h0M597.9 210.8h0M600.1 208.1h0M602.4 205.1h0M604.6 202.4h0M606.9 200.8h0M609.1 198.9h0M611.3 195.3h0M613.6 191.5h0M615.8 188.8h0M618.1 185.9h0M620.3 181.8h0M622.5 180.9h0M624.8 178.9h0M627 178.3h0M629.3 176.8h0M631.5 175.7h0M633.7 171h0M636 167.2h0M638.2 165.7h0M640.5 162.9h0M642.7 160.6h0M644.9 158.1h0M647.2 156.3h0M649.4 153.6h0M651.7 151.7h0M653.9 150.8h0M656.1 149.1h0M658.4 146.4h0" stroke="#1E90FF" stroke-width="2.5" stroke-linecap="round" fill="none"/>
<path d="M575.5 251h0M575.5 251h0M575.6 250.9h0M575.7 250.9h0M575.8 250.8h0M575.9 250.7h0M576.2 250.6h0M576.4 250.5h0M576.6 250.3h0M576.8 250.2h0M577.1 250h0M577.3 249.9h0M577.5 249.8h0M577.7 249.6h0M580 248.3h0M582.2 246.9h0M584.5 245.6h0M586.7 243.9h0M588.9 242.2h0M591.2 240.6h0M593.4 239.5h0M595.7 237.5h0M597.9 236.6h0M600.1 234.6h0M602.4 233.7h0M604.6 230.9h0M606.9 229.7h0M609.1 227.9h0M611.3 227.5h0M613.6 226.3h0M615.8 224.4h0M618.1 223.2h0M620.3 222h0M622.5 220.1h0M624.8 218.8h0M627 217.9h0M629.3 217.2h0M631.5 216.3h0M633.7 215.9h0M636 215.8h0M638.2 213.5h0M640.5 211h0M642.7 208.5h0M644.9 206.9h0M647.2 205.2h0M649.4 203.3h0M651.7 201.7h0M653.9 201h0M656.1 198.6h0M658.4 197.7h0M660.6 196.5h0M662.9 193.7h0M665.1 191.8h0M667.3 190.5h0M669.6 189.7h0M671.8 188.5h0M674.1 187h0M676.3 186h0M678.5 184.3h0M680.8 182h0M683 180.1h0M685.3 179.4h0M687.5 178.3h0" stroke="#15559B" stroke-width="2.5" stroke-linecap="round" fill="none"/>
<path d="M575.5 250.9h0M575.5 250.9h0M575.6 250.6h0M575.7 250.3h0M575.8 249.9h0M575.9 249.5h0M576.2 248.8h0M576.4 248h0M576.6 247.3h0M576.8 246.5h0M577.1 245.8h0M577.3 245.2h0M577.5 244.6h0M577.7 243.9h0M580 238.7h0M582.2 234.7h0M584.5 232.6h0M586.7 230.5h0M588.9 227.5h0M591.2 224.5h0M593.4 222.9h0M595.7 220.7h0M597.9 218.9h0M600.1 218.1h0M602.4 217.9h0M604.6 216.3h0M606.9 213.5h0M609.1 210.6h0M611.3 208.3h0M613.6 206.6h0M615.8 204.7h0M618.1 204.3h0M620.3 203.3h0M622.5 202.6h0M624.8 201.2h0M627 200.2h0M629.3 198.8h0M631.5 197.3h0M633.7 195.8h0M636 194.1h0M638.2 192.8h0M640.5 190.3h0M642.7 189.4h0M644.9 186.7h0M647.2 185.6h0M649.4 184.1h0M651.7 182.7h0M653.9 180.6h0M656.1 179h0M658.4 178.2h0M660.6 176.1h0M662.9 175.3h0M665.1 173.5h0M667.3 171.6h0M669.6 169.4h0M671.8 168.2h0M674.1 166.7h0M676.3 164.3h0M678.5 162.3h0M680.8 160.5h0M683 159.4h0M685.3 157.5h0M687.5 156.1h0" stroke="#9932CC" stroke-width="2.5" stroke-linecap="round" fill="none"/>
</g>
<path d="M33.8 32V138.8H155.5M33.8 148.2V255H155.5M60.7 255v4M105.5 255v4M150.3 255v4M168.1 32V138.8H289.8M168.1 148.2V255H289.8M195 255v4M239.8 255v4M284.6 255v4M302.4 32V138.8H424.1M302.4 148.2V255H424.1M329.3 255v4M374.1 255v4M418.9 255v4M436.7 32V138.8H558.4M436.7 148.2V255H558.4M463.6 255v4M508.4 255v4M553.2 255v4M571 32V138.8H692.7M571 148.2V255H692.7M597.9 255v4M642.7 255v4M687.5 255v4M33.8 115.4h-3.7M33.8 85.7h-3.7M33.8 56h-3.7M33.8 231.3h-3.7M33.8 191.9h-3.7M33.8 152.4h-3.7" stroke="#000" stroke-width="1.5" fill="none" stroke-linejoin="miter"/>
<g font-family="'Liberation Sans', Arial, Helvetica, sans-serif" fill="#000" stroke="#000" stroke-width="0.25" style="font-kerning:none">
<g font-size="10px" letter-spacing="0.12" text-anchor="middle">
<text x="60.2" y="269.2">0.01</text>
<text x="105" y="269.2">0.03</text>
<text x="149.8" y="269.2">0.05</text>
<text x="194.5" y="269.2">0.01</text>
<text x="239.3" y="269.2">0.03</text>
<text x="284.1" y="269.2">0.05</text>
<text x="328.8" y="269.2">0.01</text>
<text x="373.6" y="269.2">0.03</text>
<text x="418.4" y="269.2">0.05</text>
<text x="463.1" y="269.2">0.01</text>
<text x="507.9" y="269.2">0.03</text>
<text x="552.7" y="269.2">0.05</text>
<text x="597.4" y="269.2">0.01</text>
<text x="642.2" y="269.2">0.03</text>
<text x="687" y="269.2">0.05</text>
<text transform="translate(28.0 115.4) rotate(-90)">0.2</text>
<text transform="translate(28.0 85.7) rotate(-90)">0.5</text>
<text transform="translate(28.0 56) rotate(-90)">0.8</text>
<text transform="translate(28.0 230.3) rotate(-90)">0.01</text>
<text transform="translate(28.0 190.9) rotate(-90)">0.03</text>
<text transform="translate(28.0 151.4) rotate(-90)">0.05</text>
</g>
<g font-size="13.9px" text-anchor="middle">
<text x="93.8" y="9.9">Tewhey</text>
<text x="93.8" y="26.7">large pool</text>
<text x="228.5" y="9.9">Tewhey</text>
<text x="228.5" y="26.7">targeted pool</text>
<text x="365.9" y="9.9">Inoue</text>
<text x="365.9" y="26.7">chromosom vs. episom</text>
<text x="497.5" y="9.9">Ulirsch</text>
<text x="497.5" y="26.7">K562</text>
<text x="635.2" y="9.9">Shen</text>
<text x="635.2" y="26.7">retina vs. cortex</text>
<text x="367.9" y="290.5">Nominal alpha</text>
<text transform="translate(10.6 148.1) rotate(-90)">Observed error rate</text>
</g>
<g font-size="13.9px">
<path d="M707 59.2H717.3" stroke="#1E90FF" stroke-width="4.3" stroke-linecap="round" fill="none"/>
<text x="722.4" y="52.8">mpralm</text>
<text x="722.4" y="67.2">aggregate</text>
<path d="M707 89.9H717.3" stroke="#15559B" stroke-width="4.3" stroke-linecap="round" fill="none"/>
<text x="722.4" y="83.7">mpralm</text>
<text x="722.4" y="98.2">average</text>
<path d="M707 113.4H717.3" stroke="#B22222" stroke-width="4.3" stroke-linecap="round" fill="none"/>
<text x="722.4" y="115.5">edgeR</text>
<path d="M707 135.1H717.3" stroke="#FF8C00" stroke-width="4.3" stroke-linecap="round" fill="none"/>
<text x="722.4" y="137.4">DESeq2</text>
<path d="M707 157.1H717.3" stroke="#FFD700" stroke-width="4.3" stroke-linecap="round" fill="none"/>
<text x="722.4" y="159.3">QuASAR</text>
<path d="M707 177.3H717.3" stroke="#32CD32" stroke-width="4.3" stroke-linecap="round" fill="none"/>
<text x="722.4" y="180.1">Fisher’s</text>
<text x="722.4" y="194.2">exact test</text>
<path d="M707 209.8H717.3" stroke="#9932CC" stroke-width="4.3" stroke-linecap="round" fill="none"/>
<text x="722.4" y="212.6">t−test</text>
</g>
</g>
</svg>
</body>
</html>
